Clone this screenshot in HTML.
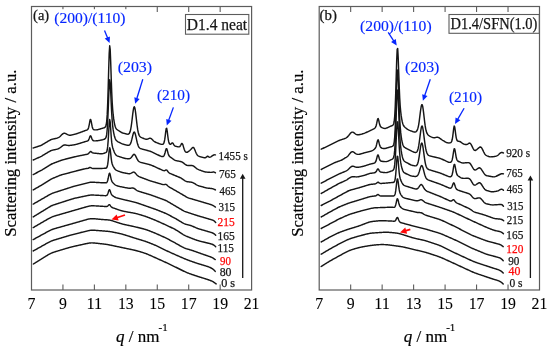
<!DOCTYPE html>
<html><head><meta charset="utf-8"><style>
html,body{margin:0;padding:0;background:#fff;width:550px;height:352px;overflow:hidden}
svg{display:block;font-family:"Liberation Serif",serif;will-change:transform}
</style></head><body>
<svg width="550" height="352" viewBox="0 0 550 352">
<rect x="31.5" y="6.5" width="220.10" height="283.50" fill="none" stroke="#5c5c5c" stroke-width="1.2"/>
<line x1="62.94" y1="290.0" x2="62.94" y2="284.5" stroke="#5c5c5c" stroke-width="1.1"/>
<line x1="62.94" y1="6.5" x2="62.94" y2="12.0" stroke="#5c5c5c" stroke-width="1.1"/>
<line x1="94.39" y1="290.0" x2="94.39" y2="284.5" stroke="#5c5c5c" stroke-width="1.1"/>
<line x1="94.39" y1="6.5" x2="94.39" y2="12.0" stroke="#5c5c5c" stroke-width="1.1"/>
<line x1="125.83" y1="290.0" x2="125.83" y2="284.5" stroke="#5c5c5c" stroke-width="1.1"/>
<line x1="125.83" y1="6.5" x2="125.83" y2="12.0" stroke="#5c5c5c" stroke-width="1.1"/>
<line x1="157.27" y1="290.0" x2="157.27" y2="284.5" stroke="#5c5c5c" stroke-width="1.1"/>
<line x1="157.27" y1="6.5" x2="157.27" y2="12.0" stroke="#5c5c5c" stroke-width="1.1"/>
<line x1="188.71" y1="290.0" x2="188.71" y2="284.5" stroke="#5c5c5c" stroke-width="1.1"/>
<line x1="188.71" y1="6.5" x2="188.71" y2="12.0" stroke="#5c5c5c" stroke-width="1.1"/>
<line x1="220.16" y1="290.0" x2="220.16" y2="284.5" stroke="#5c5c5c" stroke-width="1.1"/>
<line x1="220.16" y1="6.5" x2="220.16" y2="12.0" stroke="#5c5c5c" stroke-width="1.1"/>
<text x="31.50" y="308.5" font-size="17" text-anchor="middle" stroke="#000" stroke-width="0.1" textLength="7.91" lengthAdjust="spacingAndGlyphs">7</text>
<text x="62.94" y="308.5" font-size="17" text-anchor="middle" stroke="#000" stroke-width="0.1" textLength="7.91" lengthAdjust="spacingAndGlyphs">9</text>
<text x="94.39" y="308.5" font-size="17" text-anchor="middle" stroke="#000" stroke-width="0.1" textLength="15.81" lengthAdjust="spacingAndGlyphs">11</text>
<text x="125.83" y="308.5" font-size="17" text-anchor="middle" stroke="#000" stroke-width="0.1" textLength="15.81" lengthAdjust="spacingAndGlyphs">13</text>
<text x="157.27" y="308.5" font-size="17" text-anchor="middle" stroke="#000" stroke-width="0.1" textLength="15.81" lengthAdjust="spacingAndGlyphs">15</text>
<text x="188.71" y="308.5" font-size="17" text-anchor="middle" stroke="#000" stroke-width="0.1" textLength="15.81" lengthAdjust="spacingAndGlyphs">17</text>
<text x="220.16" y="308.5" font-size="17" text-anchor="middle" stroke="#000" stroke-width="0.1" textLength="15.81" lengthAdjust="spacingAndGlyphs">19</text>
<text x="251.60" y="308.5" font-size="17" text-anchor="middle" stroke="#000" stroke-width="0.1" textLength="15.81" lengthAdjust="spacingAndGlyphs">21</text>
<text x="116.00" y="342" font-size="17" stroke="#000" stroke-width="0.2"><tspan font-style="italic">q</tspan> / nm</text>
<text x="158.50" y="331" font-size="11" stroke="#000" stroke-width="0.15">-1</text>
<text transform="translate(16.20,236.8) rotate(-90)" font-size="16.8" stroke="#000" stroke-width="0.2">Scattering intensity / a.u.</text>
<rect x="319.2" y="6.5" width="220.30" height="283.50" fill="none" stroke="#5c5c5c" stroke-width="1.2"/>
<line x1="350.67" y1="290.0" x2="350.67" y2="284.5" stroke="#5c5c5c" stroke-width="1.1"/>
<line x1="350.67" y1="6.5" x2="350.67" y2="12.0" stroke="#5c5c5c" stroke-width="1.1"/>
<line x1="382.14" y1="290.0" x2="382.14" y2="284.5" stroke="#5c5c5c" stroke-width="1.1"/>
<line x1="382.14" y1="6.5" x2="382.14" y2="12.0" stroke="#5c5c5c" stroke-width="1.1"/>
<line x1="413.61" y1="290.0" x2="413.61" y2="284.5" stroke="#5c5c5c" stroke-width="1.1"/>
<line x1="413.61" y1="6.5" x2="413.61" y2="12.0" stroke="#5c5c5c" stroke-width="1.1"/>
<line x1="445.09" y1="290.0" x2="445.09" y2="284.5" stroke="#5c5c5c" stroke-width="1.1"/>
<line x1="445.09" y1="6.5" x2="445.09" y2="12.0" stroke="#5c5c5c" stroke-width="1.1"/>
<line x1="476.56" y1="290.0" x2="476.56" y2="284.5" stroke="#5c5c5c" stroke-width="1.1"/>
<line x1="476.56" y1="6.5" x2="476.56" y2="12.0" stroke="#5c5c5c" stroke-width="1.1"/>
<line x1="508.03" y1="290.0" x2="508.03" y2="284.5" stroke="#5c5c5c" stroke-width="1.1"/>
<line x1="508.03" y1="6.5" x2="508.03" y2="12.0" stroke="#5c5c5c" stroke-width="1.1"/>
<text x="319.20" y="308.5" font-size="17" text-anchor="middle" stroke="#000" stroke-width="0.1" textLength="7.91" lengthAdjust="spacingAndGlyphs">7</text>
<text x="350.67" y="308.5" font-size="17" text-anchor="middle" stroke="#000" stroke-width="0.1" textLength="7.91" lengthAdjust="spacingAndGlyphs">9</text>
<text x="382.14" y="308.5" font-size="17" text-anchor="middle" stroke="#000" stroke-width="0.1" textLength="15.81" lengthAdjust="spacingAndGlyphs">11</text>
<text x="413.61" y="308.5" font-size="17" text-anchor="middle" stroke="#000" stroke-width="0.1" textLength="15.81" lengthAdjust="spacingAndGlyphs">13</text>
<text x="445.09" y="308.5" font-size="17" text-anchor="middle" stroke="#000" stroke-width="0.1" textLength="15.81" lengthAdjust="spacingAndGlyphs">15</text>
<text x="476.56" y="308.5" font-size="17" text-anchor="middle" stroke="#000" stroke-width="0.1" textLength="15.81" lengthAdjust="spacingAndGlyphs">17</text>
<text x="508.03" y="308.5" font-size="17" text-anchor="middle" stroke="#000" stroke-width="0.1" textLength="15.81" lengthAdjust="spacingAndGlyphs">19</text>
<text x="539.50" y="308.5" font-size="17" text-anchor="middle" stroke="#000" stroke-width="0.1" textLength="15.81" lengthAdjust="spacingAndGlyphs">21</text>
<text x="403.70" y="342" font-size="17" stroke="#000" stroke-width="0.2"><tspan font-style="italic">q</tspan> / nm</text>
<text x="446.20" y="331" font-size="11" stroke="#000" stroke-width="0.15">-1</text>
<text transform="translate(302.80,236.8) rotate(-90)" font-size="16.8" stroke="#000" stroke-width="0.2">Scattering intensity / a.u.</text>
<path d="M33.20,147.99 L33.70,147.83 L34.20,147.67 L34.70,147.51 L35.20,147.35 L35.70,147.19 L36.20,147.03 L36.70,146.87 L37.20,146.71 L37.70,146.55 L38.20,146.39 L38.70,146.23 L39.20,146.06 L39.70,145.90 L40.20,145.71 L40.70,145.51 L41.20,145.29 L41.70,145.03 L42.20,144.76 L42.70,144.47 L43.20,144.17 L43.70,143.87 L44.20,143.57 L44.70,143.27 L45.20,142.97 L45.70,142.67 L46.20,142.37 L46.70,142.07 L47.20,141.77 L47.70,141.47 L48.20,141.17 L48.70,140.87 L49.20,140.57 L49.70,140.29 L50.20,140.01 L50.70,139.77 L51.20,139.56 L51.70,139.39 L52.20,139.25 L52.70,139.13 L53.20,139.02 L53.70,138.91 L54.20,138.80 L54.70,138.69 L55.20,138.57 L55.70,138.46 L56.20,138.33 L56.70,138.20 L57.20,138.04 L57.70,137.86 L58.20,137.65 L58.70,137.40 L59.20,137.10 L59.70,136.74 L60.20,136.32 L60.70,135.85 L61.20,135.35 L61.70,134.84 L62.20,134.35 L62.70,133.91 L63.20,133.56 L63.70,133.31 L64.20,133.20 L64.70,133.21 L65.20,133.33 L65.70,133.55 L66.20,133.82 L66.70,134.12 L67.20,134.42 L67.70,134.68 L68.20,134.90 L68.70,135.06 L69.20,135.16 L69.70,135.20 L70.20,135.20 L70.70,135.16 L71.20,135.09 L71.70,134.99 L72.20,134.89 L72.70,134.77 L73.20,134.65 L73.70,134.53 L74.20,134.40 L74.70,134.27 L75.20,134.14 L75.70,134.00 L76.20,133.85 L76.70,133.69 L77.20,133.52 L77.70,133.34 L78.20,133.16 L78.70,132.99 L79.20,132.81 L79.70,132.63 L80.20,132.45 L80.70,132.26 L81.20,132.08 L81.70,131.90 L82.20,131.71 L82.70,131.53 L83.20,131.34 L83.70,131.15 L84.20,130.96 L84.70,130.77 L85.20,130.59 L85.70,130.42 L86.20,130.26 L86.70,130.11 L87.20,129.90 L87.70,129.52 L88.20,128.72 L88.70,127.22 L89.20,124.87 L89.70,122.03 L90.20,119.76 L90.70,119.50 L91.20,121.43 L91.70,124.23 L92.20,126.69 L92.70,128.33 L93.20,129.20 L93.70,129.60 L94.20,129.77 L94.70,129.85 L95.20,129.88 L95.70,129.89 L96.20,129.88 L96.70,129.84 L97.20,129.77 L97.70,129.67 L98.20,129.55 L98.70,129.41 L99.20,129.26 L99.70,129.11 L100.20,128.95 L100.70,128.78 L101.20,128.63 L101.70,128.47 L102.20,128.33 L102.70,128.20 L103.20,128.06 L103.70,127.91 L104.20,127.74 L104.70,127.51 L105.20,127.15 L105.70,126.42 L106.20,124.82 L106.70,121.36 L107.20,114.63 L107.70,103.34 L108.20,87.39 L108.70,69.07 L109.20,53.21 L109.70,45.75 L110.20,49.67 L110.70,62.20 L111.20,77.74 L111.70,91.80 L112.20,102.42 L112.70,109.78 L113.20,114.95 L113.70,118.90 L114.20,122.09 L114.70,124.62 L115.20,126.49 L115.70,127.79 L116.20,128.65 L116.70,129.22 L117.20,129.64 L117.70,130.00 L118.20,130.34 L118.70,130.68 L119.20,131.01 L119.70,131.34 L120.20,131.66 L120.70,131.97 L121.20,132.26 L121.70,132.53 L122.20,132.76 L122.70,132.95 L123.20,133.12 L123.70,133.27 L124.20,133.41 L124.70,133.54 L125.20,133.67 L125.70,133.80 L126.20,133.93 L126.70,134.05 L127.20,134.14 L127.70,134.19 L128.20,134.16 L128.70,133.98 L129.20,133.54 L129.70,132.71 L130.20,131.33 L130.70,129.25 L131.20,126.37 L131.70,122.75 L132.20,118.60 L132.70,114.36 L133.20,110.59 L133.70,107.90 L134.20,106.77 L134.70,107.41 L135.20,109.74 L135.70,113.35 L136.20,117.69 L136.70,122.15 L137.20,126.23 L137.70,129.64 L138.20,132.25 L138.70,134.11 L139.20,135.37 L139.70,136.19 L140.20,136.73 L140.70,137.10 L141.20,137.39 L141.70,137.64 L142.20,137.86 L142.70,138.08 L143.20,138.28 L143.70,138.49 L144.20,138.69 L144.70,138.87 L145.20,139.03 L145.70,139.16 L146.20,139.23 L146.70,139.24 L147.20,139.17 L147.70,139.02 L148.20,138.82 L148.70,138.59 L149.20,138.39 L149.70,138.25 L150.20,138.23 L150.70,138.37 L151.20,138.65 L151.70,139.06 L152.20,139.56 L152.70,140.08 L153.20,140.59 L153.70,141.04 L154.20,141.43 L154.70,141.76 L155.20,142.03 L155.70,142.26 L156.20,142.48 L156.70,142.68 L157.20,142.88 L157.70,143.08 L158.20,143.27 L158.70,143.46 L159.20,143.65 L159.70,143.83 L160.20,144.01 L160.70,144.16 L161.20,144.29 L161.70,144.37 L162.20,144.39 L162.70,144.30 L163.20,144.04 L163.70,143.40 L164.20,142.06 L164.70,139.65 L165.20,136.05 L165.70,131.87 L166.20,128.63 L166.70,128.28 L167.20,131.08 L167.70,135.23 L168.20,139.02 L168.70,141.69 L169.20,143.23 L169.70,143.99 L170.20,144.27 L170.70,144.21 L171.20,143.84 L171.70,143.28 L172.20,142.88 L172.70,142.98 L173.20,143.64 L173.70,144.53 L174.20,145.30 L174.70,145.81 L175.20,146.10 L175.70,146.27 L176.20,146.40 L176.70,146.51 L177.20,146.61 L177.70,146.72 L178.20,146.82 L178.70,146.89 L179.20,146.87 L179.70,146.65 L180.20,146.10 L180.70,145.24 L181.20,144.25 L181.70,143.54 L182.20,143.52 L182.70,144.35 L183.20,145.86 L183.70,147.64 L184.20,149.28 L184.70,150.56 L185.20,151.44 L185.70,151.99 L186.20,152.27 L186.70,152.35 L187.20,152.24 L187.70,152.01 L188.20,151.68 L188.70,151.31 L189.20,150.90 L189.70,150.49 L190.20,150.04 L190.70,149.56 L191.20,149.01 L191.70,148.42 L192.20,147.86 L192.70,147.48 L193.20,147.41 L193.70,147.73 L194.20,148.46 L194.70,149.53 L195.20,150.77 L195.70,152.05 L196.20,153.23 L196.70,154.21 L197.20,154.98 L197.70,155.54 L198.20,155.92 L198.70,156.20 L199.20,156.40 L199.70,156.56 L200.20,156.70 L200.70,156.84 L201.20,156.97 L201.70,157.11 L202.20,157.24 L202.70,157.37 L203.20,157.50 L203.70,157.63 L204.20,157.73 L204.70,157.78 L205.20,157.75 L205.70,157.57 L206.20,157.21 L206.70,156.72 L207.20,156.33 L207.70,156.25 L208.20,156.49 L208.70,156.86 L209.20,157.14 L209.70,157.22 L210.20,157.10 L210.70,156.87 L211.20,156.55 L211.70,156.21 L212.20,155.85 L212.70,155.52 L213.20,155.22 L213.70,155.00 L214.20,154.88 L214.70,154.84 L215.20,154.87 L215.45,154.89" fill="none" stroke="#161616" stroke-width="1.45" stroke-linejoin="round" stroke-linecap="round"/>
<path d="M33.20,160.00 L33.70,159.77 L34.20,159.55 L34.70,159.32 L35.20,159.10 L35.70,158.87 L36.20,158.65 L36.70,158.42 L37.20,158.20 L37.70,157.98 L38.20,157.75 L38.70,157.53 L39.20,157.30 L39.70,157.07 L40.20,156.84 L40.70,156.59 L41.20,156.33 L41.70,156.05 L42.20,155.77 L42.70,155.47 L43.20,155.17 L43.70,154.87 L44.20,154.57 L44.70,154.27 L45.20,153.97 L45.70,153.67 L46.20,153.37 L46.70,153.07 L47.20,152.77 L47.70,152.47 L48.20,152.17 L48.70,151.87 L49.20,151.58 L49.70,151.29 L50.20,151.02 L50.70,150.77 L51.20,150.57 L51.70,150.40 L52.20,150.26 L52.70,150.13 L53.20,150.02 L53.70,149.91 L54.20,149.80 L54.70,149.70 L55.20,149.59 L55.70,149.48 L56.20,149.36 L56.70,149.24 L57.20,149.10 L57.70,148.94 L58.20,148.74 L58.70,148.51 L59.20,148.24 L59.70,147.93 L60.20,147.60 L60.70,147.24 L61.20,146.85 L61.70,146.46 L62.20,146.08 L62.70,145.73 L63.20,145.42 L63.70,145.19 L64.20,145.03 L64.70,144.96 L65.20,144.96 L65.70,145.02 L66.20,145.10 L66.70,145.20 L67.20,145.29 L67.70,145.36 L68.20,145.42 L68.70,145.44 L69.20,145.44 L69.70,145.42 L70.20,145.38 L70.70,145.32 L71.20,145.25 L71.70,145.18 L72.20,145.10 L72.70,145.02 L73.20,144.94 L73.70,144.86 L74.20,144.77 L74.70,144.68 L75.20,144.59 L75.70,144.48 L76.20,144.37 L76.70,144.24 L77.20,144.10 L77.70,143.95 L78.20,143.80 L78.70,143.65 L79.20,143.50 L79.70,143.34 L80.20,143.19 L80.70,143.04 L81.20,142.88 L81.70,142.73 L82.20,142.57 L82.70,142.42 L83.20,142.26 L83.70,142.10 L84.20,141.95 L84.70,141.79 L85.20,141.64 L85.70,141.51 L86.20,141.39 L86.70,141.28 L87.20,141.16 L87.70,140.94 L88.20,140.53 L88.70,139.76 L89.20,138.57 L89.70,137.13 L90.20,135.98 L90.70,135.83 L91.20,136.78 L91.70,138.17 L92.20,139.38 L92.70,140.18 L93.20,140.60 L93.70,140.78 L94.20,140.85 L94.70,140.87 L95.20,140.87 L95.70,140.86 L96.20,140.83 L96.70,140.80 L97.20,140.75 L97.70,140.69 L98.20,140.61 L98.70,140.53 L99.20,140.45 L99.70,140.35 L100.20,140.26 L100.70,140.16 L101.20,140.06 L101.70,139.95 L102.20,139.83 L102.70,139.71 L103.20,139.56 L103.70,139.40 L104.20,139.22 L104.70,138.99 L105.20,138.66 L105.70,138.09 L106.20,136.90 L106.70,134.38 L107.20,129.51 L107.70,121.35 L108.20,109.83 L108.70,96.59 L109.20,85.14 L109.70,79.76 L110.20,82.60 L110.70,91.67 L111.20,102.91 L111.70,113.09 L112.20,120.79 L112.70,126.14 L113.20,129.92 L113.70,132.83 L114.20,135.20 L114.70,137.10 L115.20,138.54 L115.70,139.57 L116.20,140.29 L116.70,140.80 L117.20,141.19 L117.70,141.52 L118.20,141.82 L118.70,142.10 L119.20,142.38 L119.70,142.65 L120.20,142.91 L120.70,143.17 L121.20,143.41 L121.70,143.64 L122.20,143.84 L122.70,144.02 L123.20,144.17 L123.70,144.31 L124.20,144.45 L124.70,144.58 L125.20,144.71 L125.70,144.84 L126.20,144.97 L126.70,145.09 L127.20,145.20 L127.70,145.29 L128.20,145.34 L128.70,145.32 L129.20,145.16 L129.70,144.80 L130.20,144.16 L130.70,143.16 L131.20,141.74 L131.70,139.93 L132.20,137.86 L132.70,135.74 L133.20,133.86 L133.70,132.54 L134.20,132.03 L134.70,132.43 L135.20,133.71 L135.70,135.65 L136.20,137.96 L136.70,140.34 L137.20,142.52 L137.70,144.36 L138.20,145.78 L138.70,146.81 L139.20,147.53 L139.70,148.01 L140.20,148.34 L140.70,148.57 L141.20,148.76 L141.70,148.92 L142.20,149.07 L142.70,149.21 L143.20,149.34 L143.70,149.48 L144.20,149.62 L144.70,149.75 L145.20,149.89 L145.70,150.03 L146.20,150.16 L146.70,150.30 L147.20,150.43 L147.70,150.57 L148.20,150.71 L148.70,150.84 L149.20,150.98 L149.70,151.12 L150.20,151.28 L150.70,151.45 L151.20,151.64 L151.70,151.85 L152.20,152.08 L152.70,152.32 L153.20,152.56 L153.70,152.81 L154.20,153.06 L154.70,153.30 L155.20,153.55 L155.70,153.80 L156.20,154.04 L156.70,154.29 L157.20,154.53 L157.70,154.78 L158.20,155.02 L158.70,155.26 L159.20,155.50 L159.70,155.73 L160.20,155.96 L160.70,156.18 L161.20,156.36 L161.70,156.50 L162.20,156.58 L162.70,156.57 L163.20,156.43 L163.70,156.07 L164.20,155.34 L164.70,154.09 L165.20,152.30 L165.70,150.30 L166.20,148.79 L166.70,148.63 L167.20,149.93 L167.70,151.91 L168.20,153.78 L168.70,155.17 L169.20,156.06 L169.70,156.59 L170.20,156.97 L170.70,157.31 L171.20,157.66 L171.70,158.02 L172.20,158.39 L172.70,158.76 L173.20,159.12 L173.70,159.47 L174.20,159.79 L174.70,160.07 L175.20,160.31 L175.70,160.49 L176.20,160.64 L176.70,160.75 L177.20,160.86 L177.70,160.96 L178.20,161.05 L178.70,161.15 L179.20,161.24 L179.70,161.34 L180.20,161.44 L180.70,161.56 L181.20,161.70 L181.70,161.89 L182.20,162.14 L182.70,162.44 L183.20,162.80 L183.70,163.19 L184.20,163.59 L184.70,163.99 L185.20,164.38 L185.70,164.73 L186.20,165.02 L186.70,165.23 L187.20,165.37 L187.70,165.44 L188.20,165.47 L188.70,165.48 L189.20,165.49 L189.70,165.49 L190.20,165.49 L190.70,165.49 L191.20,165.50 L191.70,165.53 L192.20,165.59 L192.70,165.71 L193.20,165.92 L193.70,166.20 L194.20,166.55 L194.70,166.94 L195.20,167.35 L195.70,167.77 L196.20,168.17 L196.70,168.56 L197.20,168.91 L197.70,169.22 L198.20,169.47 L198.70,169.70 L199.20,169.90 L199.70,170.08 L200.20,170.26 L200.70,170.44 L201.20,170.63 L201.70,170.81 L202.20,170.99 L202.70,171.16 L203.20,171.34 L203.70,171.51 L204.20,171.67 L204.70,171.81 L205.20,171.92 L205.70,172.00 L206.20,172.06 L206.70,172.11 L207.20,172.15 L207.70,172.19 L208.20,172.22 L208.70,172.26 L209.20,172.29 L209.70,172.33 L210.20,172.36 L210.70,172.38 L211.20,172.37 L211.70,172.33 L212.20,172.24 L212.70,172.13 L213.20,172.04 L213.70,172.03 L214.20,172.13 L214.70,172.36 L215.20,172.66 L215.45,172.83" fill="none" stroke="#161616" stroke-width="1.45" stroke-linejoin="round" stroke-linecap="round"/>
<path d="M33.20,174.60 L33.70,174.33 L34.20,174.07 L34.70,173.81 L35.20,173.54 L35.70,173.28 L36.20,173.01 L36.70,172.75 L37.20,172.49 L37.70,172.22 L38.20,171.96 L38.70,171.69 L39.20,171.43 L39.70,171.17 L40.20,170.90 L40.70,170.63 L41.20,170.36 L41.70,170.09 L42.20,169.80 L42.70,169.50 L43.20,169.20 L43.70,168.89 L44.20,168.58 L44.70,168.27 L45.20,167.95 L45.70,167.64 L46.20,167.32 L46.70,167.01 L47.20,166.70 L47.70,166.38 L48.20,166.07 L48.70,165.76 L49.20,165.44 L49.70,165.13 L50.20,164.83 L50.70,164.53 L51.20,164.25 L51.70,164.00 L52.20,163.77 L52.70,163.56 L53.20,163.36 L53.70,163.17 L54.20,162.98 L54.70,162.79 L55.20,162.60 L55.70,162.42 L56.20,162.23 L56.70,162.04 L57.20,161.85 L57.70,161.66 L58.20,161.48 L58.70,161.29 L59.20,161.10 L59.70,160.92 L60.20,160.73 L60.70,160.56 L61.20,160.39 L61.70,160.22 L62.20,160.06 L62.70,159.91 L63.20,159.75 L63.70,159.61 L64.20,159.47 L64.70,159.33 L65.20,159.20 L65.70,159.07 L66.20,158.95 L66.70,158.82 L67.20,158.70 L67.70,158.57 L68.20,158.45 L68.70,158.32 L69.20,158.20 L69.70,158.07 L70.20,157.94 L70.70,157.82 L71.20,157.69 L71.70,157.57 L72.20,157.44 L72.70,157.32 L73.20,157.19 L73.70,157.07 L74.20,156.94 L74.70,156.82 L75.20,156.70 L75.70,156.58 L76.20,156.47 L76.70,156.36 L77.20,156.26 L77.70,156.15 L78.20,156.05 L78.70,155.95 L79.20,155.85 L79.70,155.75 L80.20,155.65 L80.70,155.55 L81.20,155.45 L81.70,155.35 L82.20,155.25 L82.70,155.15 L83.20,155.05 L83.70,154.95 L84.20,154.85 L84.70,154.75 L85.20,154.64 L85.70,154.54 L86.20,154.44 L86.70,154.33 L87.20,154.20 L87.70,154.04 L88.20,153.79 L88.70,153.38 L89.20,152.80 L89.70,152.15 L90.20,151.65 L90.70,151.50 L91.20,151.73 L91.70,152.17 L92.20,152.58 L92.70,152.85 L93.20,152.99 L93.70,153.06 L94.20,153.11 L94.70,153.16 L95.20,153.21 L95.70,153.26 L96.20,153.31 L96.70,153.36 L97.20,153.41 L97.70,153.47 L98.20,153.52 L98.70,153.57 L99.20,153.62 L99.70,153.66 L100.20,153.71 L100.70,153.74 L101.20,153.76 L101.70,153.75 L102.20,153.70 L102.70,153.61 L103.20,153.49 L103.70,153.35 L104.20,153.20 L104.70,153.04 L105.20,152.87 L105.70,152.68 L106.20,152.38 L106.70,151.71 L107.20,150.04 L107.70,146.43 L108.20,140.12 L108.70,131.60 L109.20,123.43 L109.70,119.53 L110.20,122.09 L110.70,129.02 L111.20,136.50 L111.70,142.16 L112.20,145.62 L112.70,147.67 L113.20,149.18 L113.70,150.55 L114.20,151.86 L114.70,153.02 L115.20,153.95 L115.70,154.65 L116.20,155.16 L116.70,155.54 L117.20,155.82 L117.70,156.05 L118.20,156.25 L118.70,156.43 L119.20,156.60 L119.70,156.76 L120.20,156.93 L120.70,157.09 L121.20,157.25 L121.70,157.41 L122.20,157.57 L122.70,157.73 L123.20,157.89 L123.70,158.04 L124.20,158.19 L124.70,158.31 L125.20,158.42 L125.70,158.51 L126.20,158.58 L126.70,158.63 L127.20,158.68 L127.70,158.72 L128.20,158.74 L128.70,158.74 L129.20,158.69 L129.70,158.58 L130.20,158.38 L130.70,158.05 L131.20,157.57 L131.70,156.95 L132.20,156.23 L132.70,155.49 L133.20,154.85 L133.70,154.43 L134.20,154.33 L134.70,154.60 L135.20,155.22 L135.70,156.11 L136.20,157.14 L136.70,158.20 L137.20,159.18 L137.70,160.03 L138.20,160.70 L138.70,161.22 L139.20,161.62 L139.70,161.92 L140.20,162.15 L140.70,162.34 L141.20,162.51 L141.70,162.65 L142.20,162.79 L142.70,162.92 L143.20,163.04 L143.70,163.17 L144.20,163.29 L144.70,163.42 L145.20,163.54 L145.70,163.67 L146.20,163.79 L146.70,163.92 L147.20,164.04 L147.70,164.17 L148.20,164.29 L148.70,164.42 L149.20,164.55 L149.70,164.68 L150.20,164.82 L150.70,164.98 L151.20,165.15 L151.70,165.35 L152.20,165.56 L152.70,165.78 L153.20,166.01 L153.70,166.23 L154.20,166.46 L154.70,166.69 L155.20,166.92 L155.70,167.15 L156.20,167.38 L156.70,167.61 L157.20,167.84 L157.70,168.07 L158.20,168.30 L158.70,168.53 L159.20,168.76 L159.70,168.98 L160.20,169.21 L160.70,169.44 L161.20,169.67 L161.70,169.90 L162.20,170.12 L162.70,170.34 L163.20,170.52 L163.70,170.65 L164.20,170.68 L164.70,170.56 L165.20,170.30 L165.70,170.02 L166.20,169.89 L166.70,170.07 L167.20,170.56 L167.70,171.24 L168.20,171.93 L168.70,172.50 L169.20,172.92 L169.70,173.23 L170.20,173.48 L170.70,173.70 L171.20,173.91 L171.70,174.12 L172.20,174.33 L172.70,174.54 L173.20,174.75 L173.70,174.96 L174.20,175.16 L174.70,175.37 L175.20,175.58 L175.70,175.79 L176.20,176.00 L176.70,176.21 L177.20,176.41 L177.70,176.62 L178.20,176.83 L178.70,177.04 L179.20,177.25 L179.70,177.47 L180.20,177.70 L180.70,177.95 L181.20,178.23 L181.70,178.53 L182.20,178.86 L182.70,179.20 L183.20,179.55 L183.70,179.90 L184.20,180.25 L184.70,180.59 L185.20,180.90 L185.70,181.18 L186.20,181.40 L186.70,181.56 L187.20,181.68 L187.70,181.76 L188.20,181.82 L188.70,181.88 L189.20,181.94 L189.70,181.99 L190.20,182.05 L190.70,182.11 L191.20,182.18 L191.70,182.27 L192.20,182.40 L192.70,182.58 L193.20,182.81 L193.70,183.08 L194.20,183.37 L194.70,183.68 L195.20,183.99 L195.70,184.30 L196.20,184.61 L196.70,184.90 L197.20,185.17 L197.70,185.40 L198.20,185.61 L198.70,185.78 L199.20,185.94 L199.70,186.08 L200.20,186.22 L200.70,186.36 L201.20,186.50 L201.70,186.64 L202.20,186.78 L202.70,186.92 L203.20,187.05 L203.70,187.19 L204.20,187.33 L204.70,187.47 L205.20,187.60 L205.70,187.73 L206.20,187.85 L206.70,187.95 L207.20,188.04 L207.70,188.11 L208.20,188.17 L208.70,188.23 L209.20,188.28 L209.70,188.34 L210.20,188.39 L210.70,188.45 L211.20,188.51 L211.70,188.57 L212.20,188.66 L212.70,188.77 L213.20,188.91 L213.70,189.09 L214.20,189.30 L214.70,189.52 L215.20,189.76 L215.45,189.88" fill="none" stroke="#161616" stroke-width="1.45" stroke-linejoin="round" stroke-linecap="round"/>
<path d="M33.20,189.90 L33.70,189.61 L34.20,189.33 L34.70,189.04 L35.20,188.75 L35.70,188.47 L36.20,188.18 L36.70,187.89 L37.20,187.61 L37.70,187.32 L38.20,187.03 L38.70,186.75 L39.20,186.46 L39.70,186.17 L40.20,185.89 L40.70,185.60 L41.20,185.31 L41.70,185.02 L42.20,184.72 L42.70,184.41 L43.20,184.10 L43.70,183.79 L44.20,183.48 L44.70,183.17 L45.20,182.85 L45.70,182.54 L46.20,182.23 L46.70,181.91 L47.20,181.60 L47.70,181.28 L48.20,180.97 L48.70,180.66 L49.20,180.34 L49.70,180.03 L50.20,179.72 L50.70,179.43 L51.20,179.14 L51.70,178.88 L52.20,178.63 L52.70,178.41 L53.20,178.19 L53.70,177.98 L54.20,177.77 L54.70,177.56 L55.20,177.35 L55.70,177.14 L56.20,176.93 L56.70,176.72 L57.20,176.51 L57.70,176.30 L58.20,176.09 L58.70,175.88 L59.20,175.67 L59.70,175.47 L60.20,175.28 L60.70,175.10 L61.20,174.94 L61.70,174.79 L62.20,174.65 L62.70,174.52 L63.20,174.40 L63.70,174.27 L64.20,174.14 L64.70,174.01 L65.20,173.88 L65.70,173.74 L66.20,173.61 L66.70,173.48 L67.20,173.34 L67.70,173.21 L68.20,173.08 L68.70,172.94 L69.20,172.81 L69.70,172.68 L70.20,172.54 L70.70,172.41 L71.20,172.28 L71.70,172.14 L72.20,172.01 L72.70,171.88 L73.20,171.74 L73.70,171.61 L74.20,171.48 L74.70,171.34 L75.20,171.21 L75.70,171.08 L76.20,170.95 L76.70,170.82 L77.20,170.70 L77.70,170.57 L78.20,170.45 L78.70,170.32 L79.20,170.19 L79.70,170.07 L80.20,169.94 L80.70,169.82 L81.20,169.69 L81.70,169.57 L82.20,169.44 L82.70,169.32 L83.20,169.19 L83.70,169.07 L84.20,168.95 L84.70,168.83 L85.20,168.72 L85.70,168.63 L86.20,168.57 L86.70,168.52 L87.20,168.46 L87.70,168.38 L88.20,168.23 L88.70,167.99 L89.20,167.72 L89.70,167.52 L90.20,167.50 L90.70,167.67 L91.20,167.93 L91.70,168.18 L92.20,168.35 L92.70,168.43 L93.20,168.47 L93.70,168.48 L94.20,168.48 L94.70,168.48 L95.20,168.48 L95.70,168.47 L96.20,168.47 L96.70,168.47 L97.20,168.47 L97.70,168.47 L98.20,168.46 L98.70,168.46 L99.20,168.45 L99.70,168.45 L100.20,168.45 L100.70,168.44 L101.20,168.43 L101.70,168.42 L102.20,168.41 L102.70,168.40 L103.20,168.39 L103.70,168.37 L104.20,168.34 L104.70,168.31 L105.20,168.28 L105.70,168.21 L106.20,168.07 L106.70,167.68 L107.20,166.66 L107.70,164.43 L108.20,160.53 L108.70,155.27 L109.20,150.22 L109.70,147.81 L110.20,149.39 L110.70,153.67 L111.20,158.31 L111.70,161.83 L112.20,164.01 L112.70,165.33 L113.20,166.30 L113.70,167.20 L114.20,168.03 L114.70,168.77 L115.20,169.37 L115.70,169.83 L116.20,170.17 L116.70,170.45 L117.20,170.67 L117.70,170.88 L118.20,171.07 L118.70,171.26 L119.20,171.44 L119.70,171.63 L120.20,171.81 L120.70,171.99 L121.20,172.16 L121.70,172.31 L122.20,172.45 L122.70,172.58 L123.20,172.69 L123.70,172.79 L124.20,172.89 L124.70,172.98 L125.20,173.08 L125.70,173.17 L126.20,173.27 L126.70,173.36 L127.20,173.45 L127.70,173.53 L128.20,173.60 L128.70,173.66 L129.20,173.68 L129.70,173.66 L130.20,173.58 L130.70,173.43 L131.20,173.21 L131.70,172.93 L132.20,172.62 L132.70,172.33 L133.20,172.14 L133.70,172.08 L134.20,172.21 L134.70,172.51 L135.20,172.97 L135.70,173.53 L136.20,174.13 L136.70,174.70 L137.20,175.22 L137.70,175.67 L138.20,176.03 L138.70,176.34 L139.20,176.61 L139.70,176.84 L140.20,177.06 L140.70,177.26 L141.20,177.46 L141.70,177.65 L142.20,177.84 L142.70,178.03 L143.20,178.22 L143.70,178.41 L144.20,178.60 L144.70,178.79 L145.20,178.98 L145.70,179.17 L146.20,179.36 L146.70,179.55 L147.20,179.74 L147.70,179.93 L148.20,180.12 L148.70,180.31 L149.20,180.49 L149.70,180.66 L150.20,180.83 L150.70,180.98 L151.20,181.14 L151.70,181.28 L152.20,181.43 L152.70,181.58 L153.20,181.73 L153.70,181.87 L154.20,182.02 L154.70,182.17 L155.20,182.31 L155.70,182.46 L156.20,182.61 L156.70,182.75 L157.20,182.90 L157.70,183.05 L158.20,183.19 L158.70,183.34 L159.20,183.49 L159.70,183.64 L160.20,183.78 L160.70,183.93 L161.20,184.08 L161.70,184.22 L162.20,184.36 L162.70,184.49 L163.20,184.59 L163.70,184.63 L164.20,184.60 L164.70,184.48 L165.20,184.36 L165.70,184.33 L166.20,184.49 L166.70,184.84 L167.20,185.32 L167.70,185.81 L168.20,186.26 L168.70,186.63 L169.20,186.96 L169.70,187.26 L170.20,187.55 L170.70,187.84 L171.20,188.12 L171.70,188.41 L172.20,188.69 L172.70,188.98 L173.20,189.26 L173.70,189.55 L174.20,189.83 L174.70,190.12 L175.20,190.40 L175.70,190.69 L176.20,190.97 L176.70,191.26 L177.20,191.54 L177.70,191.83 L178.20,192.12 L178.70,192.41 L179.20,192.70 L179.70,193.00 L180.20,193.29 L180.70,193.58 L181.20,193.87 L181.70,194.17 L182.20,194.46 L182.70,194.75 L183.20,195.05 L183.70,195.34 L184.20,195.63 L184.70,195.92 L185.20,196.22 L185.70,196.51 L186.20,196.80 L186.70,197.08 L187.20,197.35 L187.70,197.59 L188.20,197.81 L188.70,198.00 L189.20,198.17 L189.70,198.32 L190.20,198.47 L190.70,198.62 L191.20,198.77 L191.70,198.91 L192.20,199.06 L192.70,199.21 L193.20,199.35 L193.70,199.50 L194.20,199.64 L194.70,199.79 L195.20,199.94 L195.70,200.08 L196.20,200.23 L196.70,200.38 L197.20,200.52 L197.70,200.67 L198.20,200.82 L198.70,200.97 L199.20,201.11 L199.70,201.26 L200.20,201.41 L200.70,201.56 L201.20,201.71 L201.70,201.85 L202.20,202.00 L202.70,202.15 L203.20,202.30 L203.70,202.44 L204.20,202.59 L204.70,202.74 L205.20,202.89 L205.70,203.04 L206.20,203.18 L206.70,203.33 L207.20,203.48 L207.70,203.63 L208.20,203.78 L208.70,203.92 L209.20,204.07 L209.70,204.22 L210.20,204.37 L210.70,204.53 L211.20,204.70 L211.70,204.89 L212.20,205.12 L212.70,205.37 L213.20,205.65 L213.70,205.94 L214.20,206.25 L214.70,206.55 L215.20,206.86 L215.45,207.01" fill="none" stroke="#161616" stroke-width="1.45" stroke-linejoin="round" stroke-linecap="round"/>
<path d="M33.20,204.10 L33.70,203.81 L34.20,203.52 L34.70,203.24 L35.20,202.95 L35.70,202.66 L36.20,202.37 L36.70,202.08 L37.20,201.80 L37.70,201.51 L38.20,201.22 L38.70,200.93 L39.20,200.64 L39.70,200.35 L40.20,200.07 L40.70,199.78 L41.20,199.49 L41.70,199.20 L42.20,198.91 L42.70,198.63 L43.20,198.34 L43.70,198.05 L44.20,197.76 L44.70,197.47 L45.20,197.19 L45.70,196.90 L46.20,196.61 L46.70,196.32 L47.20,196.03 L47.70,195.75 L48.20,195.46 L48.70,195.17 L49.20,194.88 L49.70,194.60 L50.20,194.32 L50.70,194.06 L51.20,193.81 L51.70,193.58 L52.20,193.37 L52.70,193.17 L53.20,193.00 L53.70,192.83 L54.20,192.66 L54.70,192.50 L55.20,192.34 L55.70,192.18 L56.20,192.01 L56.70,191.85 L57.20,191.69 L57.70,191.53 L58.20,191.37 L58.70,191.21 L59.20,191.05 L59.70,190.88 L60.20,190.72 L60.70,190.56 L61.20,190.40 L61.70,190.24 L62.20,190.08 L62.70,189.92 L63.20,189.76 L63.70,189.59 L64.20,189.43 L64.70,189.27 L65.20,189.11 L65.70,188.95 L66.20,188.79 L66.70,188.63 L67.20,188.46 L67.70,188.30 L68.20,188.14 L68.70,187.98 L69.20,187.82 L69.70,187.66 L70.20,187.50 L70.70,187.33 L71.20,187.17 L71.70,187.01 L72.20,186.86 L72.70,186.70 L73.20,186.55 L73.70,186.40 L74.20,186.26 L74.70,186.13 L75.20,186.00 L75.70,185.87 L76.20,185.74 L76.70,185.62 L77.20,185.49 L77.70,185.37 L78.20,185.24 L78.70,185.11 L79.20,184.99 L79.70,184.86 L80.20,184.74 L80.70,184.61 L81.20,184.49 L81.70,184.36 L82.20,184.23 L82.70,184.11 L83.20,183.98 L83.70,183.86 L84.20,183.73 L84.70,183.60 L85.20,183.48 L85.70,183.35 L86.20,183.23 L86.70,183.10 L87.20,182.98 L87.70,182.85 L88.20,182.73 L88.70,182.60 L89.20,182.49 L89.70,182.39 L90.20,182.30 L90.70,182.24 L91.20,182.21 L91.70,182.19 L92.20,182.20 L92.70,182.22 L93.20,182.24 L93.70,182.27 L94.20,182.30 L94.70,182.32 L95.20,182.35 L95.70,182.38 L96.20,182.41 L96.70,182.44 L97.20,182.47 L97.70,182.49 L98.20,182.52 L98.70,182.55 L99.20,182.58 L99.70,182.60 L100.20,182.63 L100.70,182.66 L101.20,182.68 L101.70,182.71 L102.20,182.73 L102.70,182.75 L103.20,182.77 L103.70,182.79 L104.20,182.81 L104.70,182.83 L105.20,182.84 L105.70,182.84 L106.20,182.78 L106.70,182.53 L107.20,181.87 L107.70,180.50 L108.20,178.28 L108.70,175.63 L109.20,173.55 L109.70,173.20 L110.20,174.73 L110.70,177.14 L111.20,179.35 L111.70,180.90 L112.20,181.85 L112.70,182.49 L113.20,183.04 L113.70,183.56 L114.20,184.05 L114.70,184.48 L115.20,184.84 L115.70,185.14 L116.20,185.38 L116.70,185.59 L117.20,185.78 L117.70,185.95 L118.20,186.11 L118.70,186.25 L119.20,186.38 L119.70,186.49 L120.20,186.60 L120.70,186.71 L121.20,186.81 L121.70,186.91 L122.20,187.00 L122.70,187.10 L123.20,187.20 L123.70,187.30 L124.20,187.40 L124.70,187.50 L125.20,187.59 L125.70,187.69 L126.20,187.79 L126.70,187.88 L127.20,187.97 L127.70,188.06 L128.20,188.14 L128.70,188.20 L129.20,188.24 L129.70,188.25 L130.20,188.24 L130.70,188.19 L131.20,188.12 L131.70,188.05 L132.20,187.99 L132.70,187.99 L133.20,188.07 L133.70,188.23 L134.20,188.49 L134.70,188.81 L135.20,189.18 L135.70,189.57 L136.20,189.93 L136.70,190.27 L137.20,190.56 L137.70,190.82 L138.20,191.04 L138.70,191.23 L139.20,191.41 L139.70,191.58 L140.20,191.74 L140.70,191.90 L141.20,192.05 L141.70,192.20 L142.20,192.36 L142.70,192.51 L143.20,192.66 L143.70,192.81 L144.20,192.96 L144.70,193.11 L145.20,193.26 L145.70,193.41 L146.20,193.56 L146.70,193.71 L147.20,193.86 L147.70,194.01 L148.20,194.16 L148.70,194.31 L149.20,194.46 L149.70,194.61 L150.20,194.77 L150.70,194.93 L151.20,195.10 L151.70,195.27 L152.20,195.45 L152.70,195.62 L153.20,195.81 L153.70,195.99 L154.20,196.17 L154.70,196.36 L155.20,196.54 L155.70,196.72 L156.20,196.91 L156.70,197.09 L157.20,197.27 L157.70,197.46 L158.20,197.64 L158.70,197.82 L159.20,198.01 L159.70,198.19 L160.20,198.37 L160.70,198.56 L161.20,198.74 L161.70,198.92 L162.20,199.11 L162.70,199.29 L163.20,199.47 L163.70,199.66 L164.20,199.85 L164.70,200.04 L165.20,200.25 L165.70,200.47 L166.20,200.70 L166.70,200.96 L167.20,201.23 L167.70,201.51 L168.20,201.80 L168.70,202.09 L169.20,202.39 L169.70,202.68 L170.20,202.98 L170.70,203.27 L171.20,203.57 L171.70,203.86 L172.20,204.16 L172.70,204.45 L173.20,204.75 L173.70,205.04 L174.20,205.34 L174.70,205.63 L175.20,205.93 L175.70,206.22 L176.20,206.52 L176.70,206.81 L177.20,207.11 L177.70,207.40 L178.20,207.69 L178.70,207.99 L179.20,208.28 L179.70,208.58 L180.20,208.87 L180.70,209.16 L181.20,209.46 L181.70,209.75 L182.20,210.04 L182.70,210.33 L183.20,210.61 L183.70,210.88 L184.20,211.13 L184.70,211.36 L185.20,211.57 L185.70,211.76 L186.20,211.94 L186.70,212.11 L187.20,212.27 L187.70,212.43 L188.20,212.59 L188.70,212.76 L189.20,212.92 L189.70,213.08 L190.20,213.24 L190.70,213.41 L191.20,213.57 L191.70,213.74 L192.20,213.90 L192.70,214.07 L193.20,214.23 L193.70,214.40 L194.20,214.57 L194.70,214.73 L195.20,214.90 L195.70,215.06 L196.20,215.23 L196.70,215.39 L197.20,215.55 L197.70,215.70 L198.20,215.86 L198.70,216.01 L199.20,216.15 L199.70,216.30 L200.20,216.45 L200.70,216.59 L201.20,216.74 L201.70,216.89 L202.20,217.03 L202.70,217.18 L203.20,217.32 L203.70,217.47 L204.20,217.62 L204.70,217.76 L205.20,217.91 L205.70,218.06 L206.20,218.20 L206.70,218.35 L207.20,218.49 L207.70,218.64 L208.20,218.79 L208.70,218.93 L209.20,219.08 L209.70,219.23 L210.20,219.37 L210.70,219.52 L211.20,219.67 L211.70,219.82 L212.20,219.98 L212.70,220.15 L213.20,220.37 L213.70,220.64 L214.20,220.98 L214.70,221.41 L215.20,221.91 L215.70,222.45" fill="none" stroke="#161616" stroke-width="1.45" stroke-linejoin="round" stroke-linecap="round"/>
<path d="M33.20,216.90 L33.70,216.59 L34.20,216.29 L34.70,215.98 L35.20,215.67 L35.70,215.36 L36.20,215.06 L36.70,214.75 L37.20,214.44 L37.70,214.14 L38.20,213.83 L38.70,213.52 L39.20,213.21 L39.70,212.91 L40.20,212.60 L40.70,212.29 L41.20,211.99 L41.70,211.68 L42.20,211.37 L42.70,211.07 L43.20,210.76 L43.70,210.45 L44.20,210.14 L44.70,209.84 L45.20,209.53 L45.70,209.22 L46.20,208.92 L46.70,208.61 L47.20,208.30 L47.70,208.00 L48.20,207.69 L48.70,207.38 L49.20,207.08 L49.70,206.79 L50.20,206.50 L50.70,206.23 L51.20,205.97 L51.70,205.73 L52.20,205.51 L52.70,205.30 L53.20,205.12 L53.70,204.94 L54.20,204.77 L54.70,204.60 L55.20,204.44 L55.70,204.28 L56.20,204.12 L56.70,203.95 L57.20,203.79 L57.70,203.63 L58.20,203.47 L58.70,203.31 L59.20,203.15 L59.70,202.99 L60.20,202.82 L60.70,202.66 L61.20,202.50 L61.70,202.34 L62.20,202.18 L62.70,202.02 L63.20,201.86 L63.70,201.69 L64.20,201.53 L64.70,201.37 L65.20,201.21 L65.70,201.05 L66.20,200.89 L66.70,200.73 L67.20,200.56 L67.70,200.40 L68.20,200.24 L68.70,200.08 L69.20,199.92 L69.70,199.76 L70.20,199.60 L70.70,199.44 L71.20,199.28 L71.70,199.12 L72.20,198.97 L72.70,198.82 L73.20,198.68 L73.70,198.54 L74.20,198.41 L74.70,198.29 L75.20,198.17 L75.70,198.06 L76.20,197.95 L76.70,197.85 L77.20,197.74 L77.70,197.64 L78.20,197.53 L78.70,197.42 L79.20,197.32 L79.70,197.21 L80.20,197.11 L80.70,197.00 L81.20,196.90 L81.70,196.79 L82.20,196.69 L82.70,196.58 L83.20,196.48 L83.70,196.37 L84.20,196.27 L84.70,196.16 L85.20,196.06 L85.70,195.95 L86.20,195.84 L86.70,195.74 L87.20,195.63 L87.70,195.53 L88.20,195.43 L88.70,195.33 L89.20,195.25 L89.70,195.17 L90.20,195.10 L90.70,195.06 L91.20,195.03 L91.70,195.01 L92.20,195.01 L92.70,195.03 L93.20,195.05 L93.70,195.07 L94.20,195.10 L94.70,195.12 L95.20,195.15 L95.70,195.18 L96.20,195.21 L96.70,195.23 L97.20,195.26 L97.70,195.29 L98.20,195.32 L98.70,195.34 L99.20,195.37 L99.70,195.40 L100.20,195.43 L100.70,195.45 L101.20,195.48 L101.70,195.50 L102.20,195.53 L102.70,195.55 L103.20,195.58 L103.70,195.60 L104.20,195.62 L104.70,195.64 L105.20,195.66 L105.70,195.66 L106.20,195.61 L106.70,195.42 L107.20,194.94 L107.70,193.97 L108.20,192.50 L108.70,190.85 L109.20,189.72 L109.70,189.77 L110.20,190.92 L110.70,192.47 L111.20,193.80 L111.70,194.71 L112.20,195.28 L112.70,195.68 L113.20,196.04 L113.70,196.40 L114.20,196.73 L114.70,197.02 L115.20,197.27 L115.70,197.48 L116.20,197.67 L116.70,197.83 L117.20,197.98 L117.70,198.13 L118.20,198.27 L118.70,198.40 L119.20,198.53 L119.70,198.66 L120.20,198.78 L120.70,198.90 L121.20,199.02 L121.70,199.14 L122.20,199.26 L122.70,199.38 L123.20,199.49 L123.70,199.61 L124.20,199.73 L124.70,199.85 L125.20,199.96 L125.70,200.08 L126.20,200.20 L126.70,200.32 L127.20,200.43 L127.70,200.55 L128.20,200.67 L128.70,200.79 L129.20,200.90 L129.70,201.02 L130.20,201.14 L130.70,201.25 L131.20,201.37 L131.70,201.49 L132.20,201.61 L132.70,201.72 L133.20,201.84 L133.70,201.96 L134.20,202.09 L134.70,202.21 L135.20,202.34 L135.70,202.48 L136.20,202.63 L136.70,202.78 L137.20,202.94 L137.70,203.10 L138.20,203.27 L138.70,203.45 L139.20,203.62 L139.70,203.79 L140.20,203.97 L140.70,204.14 L141.20,204.32 L141.70,204.49 L142.20,204.67 L142.70,204.84 L143.20,205.02 L143.70,205.19 L144.20,205.37 L144.70,205.54 L145.20,205.72 L145.70,205.89 L146.20,206.07 L146.70,206.24 L147.20,206.42 L147.70,206.59 L148.20,206.77 L148.70,206.94 L149.20,207.12 L149.70,207.29 L150.20,207.47 L150.70,207.64 L151.20,207.82 L151.70,207.99 L152.20,208.17 L152.70,208.34 L153.20,208.52 L153.70,208.70 L154.20,208.87 L154.70,209.05 L155.20,209.23 L155.70,209.42 L156.20,209.60 L156.70,209.79 L157.20,209.99 L157.70,210.18 L158.20,210.38 L158.70,210.58 L159.20,210.78 L159.70,210.98 L160.20,211.18 L160.70,211.38 L161.20,211.58 L161.70,211.78 L162.20,211.98 L162.70,212.18 L163.20,212.38 L163.70,212.58 L164.20,212.79 L164.70,213.00 L165.20,213.22 L165.70,213.44 L166.20,213.67 L166.70,213.91 L167.20,214.16 L167.70,214.41 L168.20,214.67 L168.70,214.93 L169.20,215.20 L169.70,215.46 L170.20,215.73 L170.70,215.99 L171.20,216.26 L171.70,216.52 L172.20,216.79 L172.70,217.05 L173.20,217.32 L173.70,217.58 L174.20,217.85 L174.70,218.12 L175.20,218.40 L175.70,218.68 L176.20,218.96 L176.70,219.25 L177.20,219.55 L177.70,219.85 L178.20,220.15 L178.70,220.45 L179.20,220.76 L179.70,221.06 L180.20,221.37 L180.70,221.67 L181.20,221.98 L181.70,222.28 L182.20,222.58 L182.70,222.87 L183.20,223.14 L183.70,223.40 L184.20,223.64 L184.70,223.85 L185.20,224.04 L185.70,224.21 L186.20,224.36 L186.70,224.49 L187.20,224.62 L187.70,224.74 L188.20,224.86 L188.70,224.98 L189.20,225.10 L189.70,225.24 L190.20,225.38 L190.70,225.54 L191.20,225.71 L191.70,225.89 L192.20,226.09 L192.70,226.30 L193.20,226.52 L193.70,226.75 L194.20,226.97 L194.70,227.20 L195.20,227.42 L195.70,227.64 L196.20,227.86 L196.70,228.07 L197.20,228.26 L197.70,228.45 L198.20,228.62 L198.70,228.79 L199.20,228.94 L199.70,229.10 L200.20,229.25 L200.70,229.39 L201.20,229.54 L201.70,229.69 L202.20,229.83 L202.70,229.98 L203.20,230.12 L203.70,230.27 L204.20,230.42 L204.70,230.56 L205.20,230.71 L205.70,230.86 L206.20,231.00 L206.70,231.15 L207.20,231.29 L207.70,231.44 L208.20,231.59 L208.70,231.73 L209.20,231.88 L209.70,232.03 L210.20,232.17 L210.70,232.32 L211.20,232.47 L211.70,232.64 L212.20,232.81 L212.70,233.01 L213.20,233.25 L213.70,233.55 L214.20,233.90 L214.70,234.31 L215.20,234.78 L215.70,235.29" fill="none" stroke="#161616" stroke-width="1.45" stroke-linejoin="round" stroke-linecap="round"/>
<path d="M33.20,227.60 L33.70,227.31 L34.20,227.02 L34.70,226.73 L35.20,226.44 L35.70,226.15 L36.20,225.86 L36.70,225.56 L37.20,225.27 L37.70,224.98 L38.20,224.69 L38.70,224.40 L39.20,224.11 L39.70,223.82 L40.20,223.53 L40.70,223.24 L41.20,222.95 L41.70,222.66 L42.20,222.37 L42.70,222.08 L43.20,221.78 L43.70,221.49 L44.20,221.20 L44.70,220.91 L45.20,220.62 L45.70,220.33 L46.20,220.04 L46.70,219.75 L47.20,219.46 L47.70,219.17 L48.20,218.88 L48.70,218.60 L49.20,218.32 L49.70,218.04 L50.20,217.78 L50.70,217.53 L51.20,217.29 L51.70,217.07 L52.20,216.86 L52.70,216.67 L53.20,216.49 L53.70,216.32 L54.20,216.16 L54.70,216.01 L55.20,215.86 L55.70,215.71 L56.20,215.56 L56.70,215.42 L57.20,215.27 L57.70,215.13 L58.20,214.98 L58.70,214.83 L59.20,214.69 L59.70,214.54 L60.20,214.40 L60.70,214.25 L61.20,214.11 L61.70,213.96 L62.20,213.82 L62.70,213.67 L63.20,213.53 L63.70,213.38 L64.20,213.23 L64.70,213.09 L65.20,212.94 L65.70,212.80 L66.20,212.65 L66.70,212.51 L67.20,212.36 L67.70,212.22 L68.20,212.07 L68.70,211.93 L69.20,211.78 L69.70,211.63 L70.20,211.49 L70.70,211.34 L71.20,211.20 L71.70,211.05 L72.20,210.91 L72.70,210.76 L73.20,210.62 L73.70,210.47 L74.20,210.33 L74.70,210.19 L75.20,210.04 L75.70,209.90 L76.20,209.75 L76.70,209.61 L77.20,209.47 L77.70,209.32 L78.20,209.18 L78.70,209.04 L79.20,208.89 L79.70,208.75 L80.20,208.61 L80.70,208.46 L81.20,208.32 L81.70,208.18 L82.20,208.03 L82.70,207.89 L83.20,207.75 L83.70,207.60 L84.20,207.46 L84.70,207.32 L85.20,207.18 L85.70,207.03 L86.20,206.89 L86.70,206.75 L87.20,206.61 L87.70,206.47 L88.20,206.34 L88.70,206.21 L89.20,206.10 L89.70,206.00 L90.20,205.91 L90.70,205.85 L91.20,205.80 L91.70,205.77 L92.20,205.76 L92.70,205.76 L93.20,205.77 L93.70,205.79 L94.20,205.82 L94.70,205.85 L95.20,205.87 L95.70,205.90 L96.20,205.93 L96.70,205.96 L97.20,205.99 L97.70,206.03 L98.20,206.06 L98.70,206.09 L99.20,206.12 L99.70,206.15 L100.20,206.18 L100.70,206.21 L101.20,206.24 L101.70,206.27 L102.20,206.29 L102.70,206.32 L103.20,206.35 L103.70,206.38 L104.20,206.41 L104.70,206.44 L105.20,206.47 L105.70,206.50 L106.20,206.52 L106.70,206.48 L107.20,206.34 L107.70,206.03 L108.20,205.53 L108.70,204.99 L109.20,204.66 L109.70,204.80 L110.20,205.38 L110.70,206.12 L111.20,206.76 L111.70,207.23 L112.20,207.53 L112.70,207.75 L113.20,207.92 L113.70,208.09 L114.20,208.26 L114.70,208.43 L115.20,208.61 L115.70,208.78 L116.20,208.96 L116.70,209.13 L117.20,209.31 L117.70,209.49 L118.20,209.66 L118.70,209.83 L119.20,210.01 L119.70,210.17 L120.20,210.34 L120.70,210.50 L121.20,210.65 L121.70,210.79 L122.20,210.93 L122.70,211.05 L123.20,211.16 L123.70,211.27 L124.20,211.37 L124.70,211.47 L125.20,211.56 L125.70,211.66 L126.20,211.75 L126.70,211.84 L127.20,211.93 L127.70,212.02 L128.20,212.11 L128.70,212.19 L129.20,212.28 L129.70,212.37 L130.20,212.46 L130.70,212.55 L131.20,212.64 L131.70,212.73 L132.20,212.82 L132.70,212.91 L133.20,213.00 L133.70,213.10 L134.20,213.20 L134.70,213.30 L135.20,213.40 L135.70,213.52 L136.20,213.63 L136.70,213.76 L137.20,213.89 L137.70,214.03 L138.20,214.17 L138.70,214.32 L139.20,214.46 L139.70,214.61 L140.20,214.76 L140.70,214.91 L141.20,215.06 L141.70,215.21 L142.20,215.36 L142.70,215.51 L143.20,215.66 L143.70,215.82 L144.20,215.97 L144.70,216.13 L145.20,216.30 L145.70,216.47 L146.20,216.64 L146.70,216.82 L147.20,217.01 L147.70,217.20 L148.20,217.39 L148.70,217.58 L149.20,217.78 L149.70,217.98 L150.20,218.18 L150.70,218.38 L151.20,218.58 L151.70,218.78 L152.20,218.98 L152.70,219.18 L153.20,219.38 L153.70,219.58 L154.20,219.79 L154.70,219.99 L155.20,220.20 L155.70,220.41 L156.20,220.62 L156.70,220.84 L157.20,221.05 L157.70,221.27 L158.20,221.49 L158.70,221.72 L159.20,221.94 L159.70,222.17 L160.20,222.39 L160.70,222.61 L161.20,222.84 L161.70,223.06 L162.20,223.29 L162.70,223.52 L163.20,223.74 L163.70,223.97 L164.20,224.19 L164.70,224.42 L165.20,224.65 L165.70,224.88 L166.20,225.11 L166.70,225.35 L167.20,225.58 L167.70,225.82 L168.20,226.06 L168.70,226.30 L169.20,226.54 L169.70,226.78 L170.20,227.02 L170.70,227.26 L171.20,227.50 L171.70,227.74 L172.20,227.98 L172.70,228.22 L173.20,228.46 L173.70,228.71 L174.20,228.96 L174.70,229.22 L175.20,229.49 L175.70,229.77 L176.20,230.05 L176.70,230.35 L177.20,230.66 L177.70,230.97 L178.20,231.29 L178.70,231.62 L179.20,231.95 L179.70,232.28 L180.20,232.62 L180.70,232.95 L181.20,233.28 L181.70,233.61 L182.20,233.93 L182.70,234.25 L183.20,234.56 L183.70,234.85 L184.20,235.14 L184.70,235.40 L185.20,235.66 L185.70,235.89 L186.20,236.12 L186.70,236.33 L187.20,236.54 L187.70,236.74 L188.20,236.94 L188.70,237.14 L189.20,237.34 L189.70,237.53 L190.20,237.73 L190.70,237.92 L191.20,238.12 L191.70,238.31 L192.20,238.51 L192.70,238.70 L193.20,238.90 L193.70,239.09 L194.20,239.28 L194.70,239.48 L195.20,239.66 L195.70,239.85 L196.20,240.03 L196.70,240.20 L197.20,240.36 L197.70,240.52 L198.20,240.67 L198.70,240.81 L199.20,240.95 L199.70,241.08 L200.20,241.21 L200.70,241.33 L201.20,241.46 L201.70,241.58 L202.20,241.70 L202.70,241.83 L203.20,241.95 L203.70,242.07 L204.20,242.19 L204.70,242.32 L205.20,242.44 L205.70,242.56 L206.20,242.69 L206.70,242.81 L207.20,242.93 L207.70,243.05 L208.20,243.18 L208.70,243.30 L209.20,243.42 L209.70,243.55 L210.20,243.68 L210.70,243.81 L211.20,243.95 L211.70,244.10 L212.20,244.28 L212.70,244.49 L213.20,244.73 L213.70,245.03 L214.20,245.38 L214.70,245.79 L215.20,246.24 L215.70,246.74" fill="none" stroke="#161616" stroke-width="1.45" stroke-linejoin="round" stroke-linecap="round"/>
<path d="M33.20,239.60 L33.70,239.33 L34.20,239.05 L34.70,238.78 L35.20,238.50 L35.70,238.23 L36.20,237.95 L36.70,237.68 L37.20,237.40 L37.70,237.13 L38.20,236.86 L38.70,236.58 L39.20,236.31 L39.70,236.03 L40.20,235.76 L40.70,235.48 L41.20,235.21 L41.70,234.93 L42.20,234.66 L42.70,234.39 L43.20,234.11 L43.70,233.84 L44.20,233.56 L44.70,233.29 L45.20,233.01 L45.70,232.74 L46.20,232.46 L46.70,232.19 L47.20,231.92 L47.70,231.65 L48.20,231.38 L48.70,231.11 L49.20,230.85 L49.70,230.59 L50.20,230.34 L50.70,230.11 L51.20,229.88 L51.70,229.67 L52.20,229.47 L52.70,229.29 L53.20,229.11 L53.70,228.95 L54.20,228.79 L54.70,228.64 L55.20,228.49 L55.70,228.35 L56.20,228.21 L56.70,228.06 L57.20,227.92 L57.70,227.78 L58.20,227.64 L58.70,227.50 L59.20,227.36 L59.70,227.22 L60.20,227.08 L60.70,226.94 L61.20,226.79 L61.70,226.65 L62.20,226.51 L62.70,226.37 L63.20,226.23 L63.70,226.09 L64.20,225.95 L64.70,225.81 L65.20,225.67 L65.70,225.53 L66.20,225.39 L66.70,225.24 L67.20,225.10 L67.70,224.96 L68.20,224.82 L68.70,224.68 L69.20,224.54 L69.70,224.40 L70.20,224.26 L70.70,224.12 L71.20,223.98 L71.70,223.83 L72.20,223.69 L72.70,223.55 L73.20,223.41 L73.70,223.27 L74.20,223.13 L74.70,222.98 L75.20,222.84 L75.70,222.70 L76.20,222.55 L76.70,222.41 L77.20,222.27 L77.70,222.13 L78.20,221.98 L78.70,221.84 L79.20,221.70 L79.70,221.55 L80.20,221.41 L80.70,221.27 L81.20,221.12 L81.70,220.98 L82.20,220.84 L82.70,220.69 L83.20,220.55 L83.70,220.41 L84.20,220.26 L84.70,220.12 L85.20,219.98 L85.70,219.83 L86.20,219.69 L86.70,219.55 L87.20,219.42 L87.70,219.28 L88.20,219.15 L88.70,219.04 L89.20,218.93 L89.70,218.84 L90.20,218.76 L90.70,218.71 L91.20,218.67 L91.70,218.65 L92.20,218.65 L92.70,218.66 L93.20,218.68 L93.70,218.71 L94.20,218.75 L94.70,218.80 L95.20,218.84 L95.70,218.89 L96.20,218.94 L96.70,218.98 L97.20,219.03 L97.70,219.08 L98.20,219.13 L98.70,219.18 L99.20,219.22 L99.70,219.27 L100.20,219.32 L100.70,219.36 L101.20,219.41 L101.70,219.45 L102.20,219.49 L102.70,219.53 L103.20,219.56 L103.70,219.60 L104.20,219.63 L104.70,219.67 L105.20,219.70 L105.70,219.73 L106.20,219.77 L106.70,219.80 L107.20,219.84 L107.70,219.89 L108.20,219.94 L108.70,220.00 L109.20,220.07 L109.70,220.16 L110.20,220.26 L110.70,220.37 L111.20,220.49 L111.70,220.63 L112.20,220.77 L112.70,220.92 L113.20,221.08 L113.70,221.24 L114.20,221.40 L114.70,221.57 L115.20,221.73 L115.70,221.90 L116.20,222.07 L116.70,222.23 L117.20,222.40 L117.70,222.57 L118.20,222.73 L118.70,222.90 L119.20,223.06 L119.70,223.22 L120.20,223.38 L120.70,223.53 L121.20,223.68 L121.70,223.82 L122.20,223.96 L122.70,224.09 L123.20,224.22 L123.70,224.34 L124.20,224.46 L124.70,224.57 L125.20,224.68 L125.70,224.79 L126.20,224.90 L126.70,225.01 L127.20,225.11 L127.70,225.22 L128.20,225.33 L128.70,225.44 L129.20,225.54 L129.70,225.65 L130.20,225.76 L130.70,225.86 L131.20,225.97 L131.70,226.08 L132.20,226.19 L132.70,226.29 L133.20,226.40 L133.70,226.51 L134.20,226.62 L134.70,226.73 L135.20,226.85 L135.70,226.96 L136.20,227.08 L136.70,227.19 L137.20,227.31 L137.70,227.43 L138.20,227.55 L138.70,227.68 L139.20,227.80 L139.70,227.93 L140.20,228.05 L140.70,228.18 L141.20,228.30 L141.70,228.43 L142.20,228.55 L142.70,228.68 L143.20,228.81 L143.70,228.94 L144.20,229.08 L144.70,229.22 L145.20,229.37 L145.70,229.52 L146.20,229.69 L146.70,229.85 L147.20,230.03 L147.70,230.21 L148.20,230.40 L148.70,230.59 L149.20,230.79 L149.70,230.98 L150.20,231.18 L150.70,231.38 L151.20,231.58 L151.70,231.78 L152.20,231.98 L152.70,232.18 L153.20,232.38 L153.70,232.59 L154.20,232.79 L154.70,233.00 L155.20,233.20 L155.70,233.41 L156.20,233.63 L156.70,233.84 L157.20,234.06 L157.70,234.28 L158.20,234.50 L158.70,234.72 L159.20,234.94 L159.70,235.17 L160.20,235.39 L160.70,235.62 L161.20,235.84 L161.70,236.07 L162.20,236.29 L162.70,236.52 L163.20,236.75 L163.70,236.98 L164.20,237.21 L164.70,237.44 L165.20,237.68 L165.70,237.92 L166.20,238.17 L166.70,238.42 L167.20,238.68 L167.70,238.94 L168.20,239.20 L168.70,239.47 L169.20,239.73 L169.70,240.00 L170.20,240.27 L170.70,240.54 L171.20,240.81 L171.70,241.08 L172.20,241.35 L172.70,241.62 L173.20,241.89 L173.70,242.16 L174.20,242.44 L174.70,242.71 L175.20,242.98 L175.70,243.26 L176.20,243.54 L176.70,243.82 L177.20,244.10 L177.70,244.39 L178.20,244.67 L178.70,244.96 L179.20,245.25 L179.70,245.53 L180.20,245.82 L180.70,246.10 L181.20,246.38 L181.70,246.66 L182.20,246.94 L182.70,247.20 L183.20,247.45 L183.70,247.69 L184.20,247.92 L184.70,248.13 L185.20,248.33 L185.70,248.51 L186.20,248.68 L186.70,248.83 L187.20,248.98 L187.70,249.13 L188.20,249.27 L188.70,249.41 L189.20,249.55 L189.70,249.69 L190.20,249.83 L190.70,249.98 L191.20,250.14 L191.70,250.30 L192.20,250.46 L192.70,250.63 L193.20,250.80 L193.70,250.98 L194.20,251.15 L194.70,251.33 L195.20,251.51 L195.70,251.68 L196.20,251.86 L196.70,252.04 L197.20,252.22 L197.70,252.40 L198.20,252.58 L198.70,252.76 L199.20,252.94 L199.70,253.12 L200.20,253.30 L200.70,253.47 L201.20,253.65 L201.70,253.83 L202.20,254.00 L202.70,254.18 L203.20,254.36 L203.70,254.53 L204.20,254.70 L204.70,254.87 L205.20,255.05 L205.70,255.22 L206.20,255.39 L206.70,255.56 L207.20,255.73 L207.70,255.90 L208.20,256.07 L208.70,256.25 L209.20,256.42 L209.70,256.60 L210.20,256.79 L210.70,256.99 L211.20,257.20 L211.70,257.43 L212.20,257.68 L212.70,257.95 L213.20,258.24 L213.70,258.55 L214.20,258.88 L214.70,259.23 L215.20,259.59" fill="none" stroke="#161616" stroke-width="1.45" stroke-linejoin="round" stroke-linecap="round"/>
<path d="M33.20,251.00 L33.70,250.72 L34.20,250.44 L34.70,250.16 L35.20,249.88 L35.70,249.60 L36.20,249.31 L36.70,249.03 L37.20,248.75 L37.70,248.47 L38.20,248.19 L38.70,247.91 L39.20,247.63 L39.70,247.35 L40.20,247.07 L40.70,246.79 L41.20,246.51 L41.70,246.22 L42.20,245.94 L42.70,245.66 L43.20,245.38 L43.70,245.10 L44.20,244.82 L44.70,244.54 L45.20,244.26 L45.70,243.98 L46.20,243.70 L46.70,243.42 L47.20,243.14 L47.70,242.87 L48.20,242.60 L48.70,242.34 L49.20,242.08 L49.70,241.83 L50.20,241.59 L50.70,241.36 L51.20,241.14 L51.70,240.94 L52.20,240.75 L52.70,240.56 L53.20,240.39 L53.70,240.22 L54.20,240.06 L54.70,239.90 L55.20,239.75 L55.70,239.59 L56.20,239.44 L56.70,239.29 L57.20,239.14 L57.70,238.99 L58.20,238.84 L58.70,238.69 L59.20,238.54 L59.70,238.39 L60.20,238.24 L60.70,238.09 L61.20,237.94 L61.70,237.79 L62.20,237.64 L62.70,237.49 L63.20,237.34 L63.70,237.19 L64.20,237.04 L64.70,236.89 L65.20,236.74 L65.70,236.59 L66.20,236.44 L66.70,236.29 L67.20,236.14 L67.70,235.99 L68.20,235.85 L68.70,235.70 L69.20,235.55 L69.70,235.41 L70.20,235.27 L70.70,235.13 L71.20,234.99 L71.70,234.85 L72.20,234.72 L72.70,234.59 L73.20,234.46 L73.70,234.33 L74.20,234.20 L74.70,234.08 L75.20,233.95 L75.70,233.83 L76.20,233.70 L76.70,233.58 L77.20,233.45 L77.70,233.33 L78.20,233.20 L78.70,233.08 L79.20,232.95 L79.70,232.83 L80.20,232.70 L80.70,232.57 L81.20,232.45 L81.70,232.32 L82.20,232.20 L82.70,232.08 L83.20,231.95 L83.70,231.83 L84.20,231.70 L84.70,231.58 L85.20,231.45 L85.70,231.33 L86.20,231.20 L86.70,231.08 L87.20,230.96 L87.70,230.85 L88.20,230.73 L88.70,230.63 L89.20,230.53 L89.70,230.45 L90.20,230.38 L90.70,230.32 L91.20,230.27 L91.70,230.24 L92.20,230.23 L92.70,230.23 L93.20,230.23 L93.70,230.25 L94.20,230.28 L94.70,230.31 L95.20,230.34 L95.70,230.38 L96.20,230.41 L96.70,230.45 L97.20,230.49 L97.70,230.53 L98.20,230.57 L98.70,230.61 L99.20,230.65 L99.70,230.69 L100.20,230.73 L100.70,230.77 L101.20,230.81 L101.70,230.84 L102.20,230.88 L102.70,230.92 L103.20,230.96 L103.70,231.00 L104.20,231.04 L104.70,231.08 L105.20,231.12 L105.70,231.16 L106.20,231.20 L106.70,231.25 L107.20,231.29 L107.70,231.34 L108.20,231.39 L108.70,231.45 L109.20,231.51 L109.70,231.57 L110.20,231.64 L110.70,231.72 L111.20,231.80 L111.70,231.89 L112.20,231.98 L112.70,232.08 L113.20,232.18 L113.70,232.28 L114.20,232.38 L114.70,232.48 L115.20,232.58 L115.70,232.69 L116.20,232.79 L116.70,232.90 L117.20,233.00 L117.70,233.11 L118.20,233.21 L118.70,233.32 L119.20,233.43 L119.70,233.54 L120.20,233.65 L120.70,233.77 L121.20,233.89 L121.70,234.02 L122.20,234.15 L122.70,234.29 L123.20,234.43 L123.70,234.58 L124.20,234.73 L124.70,234.88 L125.20,235.04 L125.70,235.19 L126.20,235.35 L126.70,235.51 L127.20,235.67 L127.70,235.83 L128.20,235.99 L128.70,236.15 L129.20,236.31 L129.70,236.47 L130.20,236.64 L130.70,236.80 L131.20,236.96 L131.70,237.12 L132.20,237.28 L132.70,237.44 L133.20,237.60 L133.70,237.76 L134.20,237.92 L134.70,238.07 L135.20,238.23 L135.70,238.39 L136.20,238.54 L136.70,238.70 L137.20,238.85 L137.70,239.00 L138.20,239.16 L138.70,239.31 L139.20,239.46 L139.70,239.61 L140.20,239.76 L140.70,239.91 L141.20,240.06 L141.70,240.21 L142.20,240.36 L142.70,240.52 L143.20,240.67 L143.70,240.83 L144.20,240.99 L144.70,241.15 L145.20,241.31 L145.70,241.48 L146.20,241.66 L146.70,241.84 L147.20,242.02 L147.70,242.21 L148.20,242.40 L148.70,242.59 L149.20,242.79 L149.70,242.98 L150.20,243.18 L150.70,243.38 L151.20,243.58 L151.70,243.78 L152.20,243.98 L152.70,244.19 L153.20,244.39 L153.70,244.60 L154.20,244.81 L154.70,245.02 L155.20,245.23 L155.70,245.45 L156.20,245.68 L156.70,245.91 L157.20,246.14 L157.70,246.38 L158.20,246.62 L158.70,246.86 L159.20,247.11 L159.70,247.35 L160.20,247.60 L160.70,247.85 L161.20,248.10 L161.70,248.35 L162.20,248.60 L162.70,248.85 L163.20,249.09 L163.70,249.34 L164.20,249.59 L164.70,249.83 L165.20,250.07 L165.70,250.31 L166.20,250.55 L166.70,250.79 L167.20,251.02 L167.70,251.25 L168.20,251.48 L168.70,251.71 L169.20,251.94 L169.70,252.16 L170.20,252.39 L170.70,252.61 L171.20,252.84 L171.70,253.06 L172.20,253.29 L172.70,253.51 L173.20,253.74 L173.70,253.96 L174.20,254.19 L174.70,254.41 L175.20,254.63 L175.70,254.85 L176.20,255.08 L176.70,255.30 L177.20,255.52 L177.70,255.74 L178.20,255.95 L178.70,256.17 L179.20,256.39 L179.70,256.61 L180.20,256.83 L180.70,257.05 L181.20,257.26 L181.70,257.48 L182.20,257.70 L182.70,257.91 L183.20,258.13 L183.70,258.34 L184.20,258.56 L184.70,258.77 L185.20,258.98 L185.70,259.19 L186.20,259.39 L186.70,259.59 L187.20,259.78 L187.70,259.97 L188.20,260.16 L188.70,260.35 L189.20,260.53 L189.70,260.71 L190.20,260.89 L190.70,261.07 L191.20,261.25 L191.70,261.42 L192.20,261.60 L192.70,261.78 L193.20,261.95 L193.70,262.13 L194.20,262.30 L194.70,262.47 L195.20,262.65 L195.70,262.82 L196.20,262.99 L196.70,263.16 L197.20,263.32 L197.70,263.48 L198.20,263.64 L198.70,263.80 L199.20,263.96 L199.70,264.11 L200.20,264.26 L200.70,264.41 L201.20,264.56 L201.70,264.71 L202.20,264.86 L202.70,265.01 L203.20,265.16 L203.70,265.31 L204.20,265.46 L204.70,265.61 L205.20,265.76 L205.70,265.91 L206.20,266.07 L206.70,266.23 L207.20,266.39 L207.70,266.56 L208.20,266.73 L208.70,266.91 L209.20,267.10 L209.70,267.30 L210.20,267.52 L210.70,267.75 L211.20,268.01 L211.70,268.29 L212.20,268.60 L212.70,268.96 L213.20,269.35 L213.70,269.80 L214.20,270.28 L214.70,270.81 L215.20,271.37" fill="none" stroke="#161616" stroke-width="1.45" stroke-linejoin="round" stroke-linecap="round"/>
<path d="M33.40,264.00 L33.90,263.69 L34.40,263.38 L34.90,263.06 L35.40,262.75 L35.90,262.44 L36.40,262.13 L36.90,261.81 L37.40,261.50 L37.90,261.19 L38.40,260.88 L38.90,260.56 L39.40,260.25 L39.90,259.94 L40.40,259.62 L40.90,259.31 L41.40,259.00 L41.90,258.69 L42.40,258.38 L42.90,258.06 L43.40,257.75 L43.90,257.44 L44.40,257.13 L44.90,256.81 L45.40,256.50 L45.90,256.19 L46.40,255.88 L46.90,255.58 L47.40,255.27 L47.90,254.97 L48.40,254.68 L48.90,254.39 L49.40,254.12 L49.90,253.85 L50.40,253.60 L50.90,253.36 L51.40,253.13 L51.90,252.92 L52.40,252.72 L52.90,252.53 L53.40,252.34 L53.90,252.17 L54.40,252.01 L54.90,251.85 L55.40,251.69 L55.90,251.54 L56.40,251.38 L56.90,251.23 L57.40,251.08 L57.90,250.93 L58.40,250.78 L58.90,250.63 L59.40,250.48 L59.90,250.33 L60.40,250.18 L60.90,250.03 L61.40,249.88 L61.90,249.73 L62.40,249.58 L62.90,249.43 L63.40,249.28 L63.90,249.13 L64.40,248.98 L64.90,248.83 L65.40,248.68 L65.90,248.53 L66.40,248.38 L66.90,248.23 L67.40,248.09 L67.90,247.94 L68.40,247.79 L68.90,247.65 L69.40,247.51 L69.90,247.37 L70.40,247.23 L70.90,247.10 L71.40,246.97 L71.90,246.85 L72.40,246.73 L72.90,246.61 L73.40,246.49 L73.90,246.37 L74.40,246.26 L74.90,246.15 L75.40,246.03 L75.90,245.92 L76.40,245.81 L76.90,245.70 L77.40,245.59 L77.90,245.48 L78.40,245.37 L78.90,245.26 L79.40,245.15 L79.90,245.04 L80.40,244.93 L80.90,244.82 L81.40,244.71 L81.90,244.60 L82.40,244.49 L82.90,244.38 L83.40,244.27 L83.90,244.16 L84.40,244.05 L84.90,243.94 L85.40,243.83 L85.90,243.73 L86.40,243.62 L86.90,243.52 L87.40,243.42 L87.90,243.32 L88.40,243.23 L88.90,243.15 L89.40,243.07 L89.90,243.01 L90.40,242.96 L90.90,242.92 L91.40,242.90 L91.90,242.89 L92.40,242.90 L92.90,242.91 L93.40,242.94 L93.90,242.97 L94.40,243.01 L94.90,243.06 L95.40,243.11 L95.90,243.16 L96.40,243.21 L96.90,243.27 L97.40,243.32 L97.90,243.38 L98.40,243.43 L98.90,243.49 L99.40,243.55 L99.90,243.60 L100.40,243.66 L100.90,243.71 L101.40,243.77 L101.90,243.83 L102.40,243.88 L102.90,243.94 L103.40,244.00 L103.90,244.06 L104.40,244.12 L104.90,244.19 L105.40,244.26 L105.90,244.33 L106.40,244.40 L106.90,244.48 L107.40,244.56 L107.90,244.65 L108.40,244.74 L108.90,244.83 L109.40,244.92 L109.90,245.02 L110.40,245.12 L110.90,245.23 L111.40,245.33 L111.90,245.43 L112.40,245.54 L112.90,245.64 L113.40,245.75 L113.90,245.85 L114.40,245.96 L114.90,246.06 L115.40,246.17 L115.90,246.27 L116.40,246.38 L116.90,246.48 L117.40,246.59 L117.90,246.69 L118.40,246.80 L118.90,246.90 L119.40,247.01 L119.90,247.11 L120.40,247.22 L120.90,247.32 L121.40,247.43 L121.90,247.53 L122.40,247.64 L122.90,247.74 L123.40,247.85 L123.90,247.95 L124.40,248.06 L124.90,248.17 L125.40,248.27 L125.90,248.38 L126.40,248.48 L126.90,248.59 L127.40,248.69 L127.90,248.80 L128.40,248.90 L128.90,249.01 L129.40,249.11 L129.90,249.22 L130.40,249.32 L130.90,249.43 L131.40,249.53 L131.90,249.64 L132.40,249.75 L132.90,249.86 L133.40,249.97 L133.90,250.08 L134.40,250.20 L134.90,250.31 L135.40,250.44 L135.90,250.56 L136.40,250.69 L136.90,250.82 L137.40,250.96 L137.90,251.10 L138.40,251.24 L138.90,251.38 L139.40,251.53 L139.90,251.68 L140.40,251.82 L140.90,251.97 L141.40,252.12 L141.90,252.28 L142.40,252.43 L142.90,252.59 L143.40,252.75 L143.90,252.91 L144.40,253.07 L144.90,253.25 L145.40,253.42 L145.90,253.61 L146.40,253.80 L146.90,253.99 L147.40,254.19 L147.90,254.40 L148.40,254.61 L148.90,254.82 L149.40,255.04 L149.90,255.26 L150.40,255.48 L150.90,255.71 L151.40,255.93 L151.90,256.16 L152.40,256.38 L152.90,256.61 L153.40,256.83 L153.90,257.06 L154.40,257.28 L154.90,257.51 L155.40,257.73 L155.90,257.96 L156.40,258.18 L156.90,258.41 L157.40,258.63 L157.90,258.86 L158.40,259.08 L158.90,259.31 L159.40,259.53 L159.90,259.76 L160.40,259.98 L160.90,260.21 L161.40,260.43 L161.90,260.66 L162.40,260.88 L162.90,261.11 L163.40,261.34 L163.90,261.56 L164.40,261.79 L164.90,262.02 L165.40,262.25 L165.90,262.48 L166.40,262.72 L166.90,262.95 L167.40,263.18 L167.90,263.42 L168.40,263.66 L168.90,263.90 L169.40,264.13 L169.90,264.37 L170.40,264.61 L170.90,264.85 L171.40,265.09 L171.90,265.33 L172.40,265.57 L172.90,265.81 L173.40,266.06 L173.90,266.30 L174.40,266.54 L174.90,266.78 L175.40,267.03 L175.90,267.27 L176.40,267.52 L176.90,267.76 L177.40,268.01 L177.90,268.26 L178.40,268.50 L178.90,268.75 L179.40,269.00 L179.90,269.25 L180.40,269.50 L180.90,269.75 L181.40,270.00 L181.90,270.25 L182.40,270.50 L182.90,270.74 L183.40,270.99 L183.90,271.23 L184.40,271.47 L184.90,271.70 L185.40,271.93 L185.90,272.16 L186.40,272.38 L186.90,272.59 L187.40,272.80 L187.90,273.00 L188.40,273.19 L188.90,273.38 L189.40,273.56 L189.90,273.74 L190.40,273.92 L190.90,274.10 L191.40,274.27 L191.90,274.44 L192.40,274.62 L192.90,274.79 L193.40,274.96 L193.90,275.13 L194.40,275.30 L194.90,275.47 L195.40,275.64 L195.90,275.81 L196.40,275.97 L196.90,276.14 L197.40,276.30 L197.90,276.46 L198.40,276.62 L198.90,276.78 L199.40,276.94 L199.90,277.09 L200.40,277.25 L200.90,277.40 L201.40,277.56 L201.90,277.71 L202.40,277.87 L202.90,278.02 L203.40,278.17 L203.90,278.33 L204.40,278.48 L204.90,278.64 L205.40,278.79 L205.90,278.95 L206.40,279.11 L206.90,279.27 L207.40,279.44 L207.90,279.61 L208.40,279.78 L208.90,279.96 L209.40,280.15 L209.90,280.34 L210.40,280.54 L210.90,280.74 L211.40,280.96 L211.90,281.19 L212.40,281.44 L212.90,281.70 L213.40,281.99 L213.90,282.29 L214.40,282.62 L214.90,282.97 L215.40,283.33 L215.90,283.72 L216.15,283.92" fill="none" stroke="#161616" stroke-width="1.45" stroke-linejoin="round" stroke-linecap="round"/>
<path d="M321.20,149.19 L321.70,148.96 L322.20,148.72 L322.70,148.48 L323.20,148.24 L323.70,148.01 L324.20,147.77 L324.70,147.53 L325.20,147.30 L325.70,147.06 L326.20,146.82 L326.70,146.58 L327.20,146.35 L327.70,146.11 L328.20,145.87 L328.70,145.63 L329.20,145.38 L329.70,145.14 L330.20,144.89 L330.70,144.64 L331.20,144.39 L331.70,144.14 L332.20,143.89 L332.70,143.64 L333.20,143.39 L333.70,143.14 L334.20,142.89 L334.70,142.64 L335.20,142.39 L335.70,142.14 L336.20,141.89 L336.70,141.64 L337.20,141.39 L337.70,141.15 L338.20,140.91 L338.70,140.68 L339.20,140.47 L339.70,140.28 L340.20,140.10 L340.70,139.92 L341.20,139.75 L341.70,139.59 L342.20,139.42 L342.70,139.25 L343.20,139.07 L343.70,138.90 L344.20,138.71 L344.70,138.52 L345.20,138.31 L345.70,138.07 L346.20,137.80 L346.70,137.48 L347.20,137.09 L347.70,136.64 L348.20,136.11 L348.70,135.51 L349.20,134.87 L349.70,134.22 L350.20,133.59 L350.70,133.03 L351.20,132.58 L351.70,132.27 L352.20,132.13 L352.70,132.14 L353.20,132.31 L353.70,132.59 L354.20,132.95 L354.70,133.34 L355.20,133.72 L355.70,134.07 L356.20,134.35 L356.70,134.56 L357.20,134.70 L357.70,134.77 L358.20,134.78 L358.70,134.75 L359.20,134.68 L359.70,134.58 L360.20,134.47 L360.70,134.35 L361.20,134.22 L361.70,134.08 L362.20,133.95 L362.70,133.80 L363.20,133.65 L363.70,133.49 L364.20,133.31 L364.70,133.12 L365.20,132.91 L365.70,132.69 L366.20,132.47 L366.70,132.25 L367.20,132.03 L367.70,131.81 L368.20,131.58 L368.70,131.36 L369.20,131.13 L369.70,130.90 L370.20,130.67 L370.70,130.44 L371.20,130.20 L371.70,129.96 L372.20,129.70 L372.70,129.44 L373.20,129.16 L373.70,128.87 L374.20,128.57 L374.70,128.23 L375.20,127.74 L375.70,126.93 L376.20,125.52 L376.70,123.41 L377.20,120.87 L377.70,118.83 L378.20,118.52 L378.70,120.12 L379.20,122.48 L379.70,124.56 L380.20,125.97 L380.70,126.77 L381.20,127.21 L381.70,127.49 L382.20,127.71 L382.70,127.91 L383.20,128.09 L383.70,128.25 L384.20,128.37 L384.70,128.43 L385.20,128.42 L385.70,128.33 L386.20,128.18 L386.70,127.99 L387.20,127.77 L387.70,127.55 L388.20,127.31 L388.70,127.08 L389.20,126.84 L389.70,126.59 L390.20,126.36 L390.70,126.14 L391.20,125.95 L391.70,125.77 L392.20,125.57 L392.70,125.30 L393.20,124.80 L393.70,123.70 L394.20,121.25 L394.70,116.25 L395.20,107.31 L395.70,93.76 L396.20,76.77 L396.70,60.03 L397.20,49.11 L397.70,48.51 L398.20,57.75 L398.70,72.01 L399.20,86.32 L399.70,97.81 L400.20,105.94 L400.70,111.53 L401.20,115.63 L401.70,118.87 L402.20,121.45 L402.70,123.42 L403.20,124.83 L403.70,125.80 L404.20,126.47 L404.70,127.00 L405.20,127.46 L405.70,127.89 L406.20,128.30 L406.70,128.70 L407.20,129.07 L407.70,129.42 L408.20,129.72 L408.70,129.98 L409.20,130.21 L409.70,130.42 L410.20,130.61 L410.70,130.81 L411.20,131.00 L411.70,131.18 L412.20,131.37 L412.70,131.55 L413.20,131.73 L413.70,131.89 L414.20,132.02 L414.70,132.08 L415.20,132.04 L415.70,131.89 L416.20,131.57 L416.70,131.04 L417.20,130.20 L417.70,128.92 L418.20,127.07 L418.70,124.54 L419.20,121.29 L419.70,117.46 L420.20,113.38 L420.70,109.53 L421.20,106.50 L421.70,104.81 L422.20,104.80 L422.70,106.48 L423.20,109.60 L423.70,113.64 L424.20,118.04 L424.70,122.25 L425.20,125.91 L425.70,128.84 L426.20,131.04 L426.70,132.60 L427.20,133.68 L427.70,134.44 L428.20,134.99 L428.70,135.42 L429.20,135.79 L429.70,136.12 L430.20,136.42 L430.70,136.69 L431.20,136.93 L431.70,137.15 L432.20,137.33 L432.70,137.49 L433.20,137.62 L433.70,137.70 L434.20,137.73 L434.70,137.70 L435.20,137.62 L435.70,137.52 L436.20,137.41 L436.70,137.32 L437.20,137.27 L437.70,137.29 L438.20,137.40 L438.70,137.61 L439.20,137.90 L439.70,138.23 L440.20,138.59 L440.70,138.95 L441.20,139.31 L441.70,139.66 L442.20,140.00 L442.70,140.32 L443.20,140.62 L443.70,140.92 L444.20,141.22 L444.70,141.51 L445.20,141.79 L445.70,142.06 L446.20,142.31 L446.70,142.52 L447.20,142.69 L447.70,142.80 L448.20,142.87 L448.70,142.91 L449.20,142.92 L449.70,142.90 L450.20,142.83 L450.70,142.66 L451.20,142.24 L451.70,141.33 L452.20,139.55 L452.70,136.57 L453.20,132.54 L453.70,128.40 L454.20,126.00 L454.70,126.90 L455.20,130.34 L455.70,134.34 L456.20,137.55 L456.70,139.58 L457.20,140.61 L457.70,141.06 L458.20,141.23 L458.70,141.31 L459.20,141.38 L459.70,141.51 L460.20,141.71 L460.70,142.00 L461.20,142.35 L461.70,142.74 L462.20,143.12 L462.70,143.46 L463.20,143.75 L463.70,143.98 L464.20,144.17 L464.70,144.32 L465.20,144.45 L465.70,144.54 L466.20,144.58 L466.70,144.53 L467.20,144.36 L467.70,144.08 L468.20,143.72 L468.70,143.37 L469.20,143.12 L469.70,143.08 L470.20,143.33 L470.70,143.88 L471.20,144.67 L471.70,145.61 L472.20,146.61 L472.70,147.63 L473.20,148.59 L473.70,149.43 L474.20,150.05 L474.70,150.40 L475.20,150.46 L475.70,150.29 L476.20,149.98 L476.70,149.60 L477.20,149.19 L477.70,148.77 L478.20,148.35 L478.70,147.94 L479.20,147.55 L479.70,147.22 L480.20,147.03 L480.70,147.06 L481.20,147.38 L481.70,148.00 L482.20,148.86 L482.70,149.86 L483.20,150.92 L483.70,151.98 L484.20,152.96 L484.70,153.82 L485.20,154.50 L485.70,155.00 L486.20,155.36 L486.70,155.63 L487.20,155.86 L487.70,156.06 L488.20,156.26 L488.70,156.45 L489.20,156.61 L489.70,156.74 L490.20,156.82 L490.70,156.85 L491.20,156.84 L491.70,156.81 L492.20,156.77 L492.70,156.72 L493.20,156.67 L493.70,156.61 L494.20,156.54 L494.70,156.46 L495.20,156.35 L495.70,156.22 L496.20,156.07 L496.70,155.88 L497.20,155.66 L497.70,155.37 L498.20,155.00 L498.70,154.56 L499.20,154.07 L499.70,153.57 L500.20,153.11 L500.70,152.76 L501.20,152.55 L501.70,152.50 L502.20,152.56 L502.70,152.70 L503.20,152.88 L503.45,152.98" fill="none" stroke="#161616" stroke-width="1.45" stroke-linejoin="round" stroke-linecap="round"/>
<path d="M321.20,169.49 L321.70,169.24 L322.20,168.98 L322.70,168.72 L323.20,168.47 L323.70,168.21 L324.20,167.95 L324.70,167.70 L325.20,167.44 L325.70,167.19 L326.20,166.93 L326.70,166.67 L327.20,166.42 L327.70,166.16 L328.20,165.90 L328.70,165.65 L329.20,165.40 L329.70,165.14 L330.20,164.89 L330.70,164.64 L331.20,164.39 L331.70,164.14 L332.20,163.89 L332.70,163.64 L333.20,163.39 L333.70,163.15 L334.20,162.91 L334.70,162.68 L335.20,162.46 L335.70,162.26 L336.20,162.07 L336.70,161.89 L337.20,161.70 L337.70,161.53 L338.20,161.35 L338.70,161.17 L339.20,160.99 L339.70,160.81 L340.20,160.63 L340.70,160.44 L341.20,160.24 L341.70,160.01 L342.20,159.76 L342.70,159.47 L343.20,159.16 L343.70,158.84 L344.20,158.52 L344.70,158.21 L345.20,157.92 L345.70,157.63 L346.20,157.33 L346.70,157.00 L347.20,156.62 L347.70,156.16 L348.20,155.64 L348.70,155.05 L349.20,154.41 L349.70,153.76 L350.20,153.14 L350.70,152.59 L351.20,152.14 L351.70,151.84 L352.20,151.69 L352.70,151.71 L353.20,151.88 L353.70,152.17 L354.20,152.53 L354.70,152.93 L355.20,153.32 L355.70,153.67 L356.20,153.95 L356.70,154.17 L357.20,154.31 L357.70,154.39 L358.20,154.40 L358.70,154.37 L359.20,154.30 L359.70,154.19 L360.20,154.07 L360.70,153.94 L361.20,153.80 L361.70,153.65 L362.20,153.50 L362.70,153.35 L363.20,153.20 L363.70,153.06 L364.20,152.92 L364.70,152.78 L365.20,152.65 L365.70,152.52 L366.20,152.39 L366.70,152.26 L367.20,152.13 L367.70,152.00 L368.20,151.87 L368.70,151.74 L369.20,151.61 L369.70,151.48 L370.20,151.34 L370.70,151.19 L371.20,151.03 L371.70,150.83 L372.20,150.60 L372.70,150.32 L373.20,150.01 L373.70,149.67 L374.20,149.30 L374.70,148.88 L375.20,148.32 L375.70,147.48 L376.20,146.14 L376.70,144.19 L377.20,141.90 L377.70,140.08 L378.20,139.82 L378.70,141.27 L379.20,143.41 L379.70,145.31 L380.20,146.61 L380.70,147.36 L381.20,147.77 L381.70,148.02 L382.20,148.21 L382.70,148.35 L383.20,148.46 L383.70,148.53 L384.20,148.54 L384.70,148.50 L385.20,148.42 L385.70,148.31 L386.20,148.18 L386.70,148.04 L387.20,147.90 L387.70,147.76 L388.20,147.61 L388.70,147.46 L389.20,147.31 L389.70,147.17 L390.20,147.03 L390.70,146.90 L391.20,146.76 L391.70,146.61 L392.20,146.41 L392.70,146.13 L393.20,145.61 L393.70,144.48 L394.20,142.03 L394.70,137.06 L395.20,128.20 L395.70,114.79 L396.20,97.98 L396.70,81.44 L397.20,70.64 L397.70,70.05 L398.20,79.18 L398.70,93.29 L399.20,107.44 L399.70,118.81 L400.20,126.86 L400.70,132.41 L401.20,136.49 L401.70,139.71 L402.20,142.28 L402.70,144.24 L403.20,145.61 L403.70,146.50 L404.20,147.07 L404.70,147.45 L405.20,147.74 L405.70,148.01 L406.20,148.28 L406.70,148.55 L407.20,148.83 L407.70,149.10 L408.20,149.37 L408.70,149.64 L409.20,149.91 L409.70,150.17 L410.20,150.43 L410.70,150.69 L411.20,150.94 L411.70,151.18 L412.20,151.41 L412.70,151.62 L413.20,151.83 L413.70,152.02 L414.20,152.20 L414.70,152.36 L415.20,152.47 L415.70,152.49 L416.20,152.37 L416.70,152.01 L417.20,151.31 L417.70,150.15 L418.20,148.39 L418.70,145.91 L419.20,142.72 L419.70,138.95 L420.20,134.92 L420.70,131.10 L421.20,128.05 L421.70,126.28 L422.20,126.09 L422.70,127.51 L423.20,130.29 L423.70,133.98 L424.20,138.04 L424.70,141.99 L425.20,145.52 L425.70,148.44 L426.20,150.72 L426.70,152.42 L427.20,153.64 L427.70,154.48 L428.20,155.05 L428.70,155.42 L429.20,155.66 L429.70,155.84 L430.20,155.98 L430.70,156.11 L431.20,156.23 L431.70,156.35 L432.20,156.47 L432.70,156.59 L433.20,156.71 L433.70,156.83 L434.20,156.95 L434.70,157.07 L435.20,157.19 L435.70,157.31 L436.20,157.42 L436.70,157.54 L437.20,157.66 L437.70,157.78 L438.20,157.90 L438.70,158.02 L439.20,158.15 L439.70,158.28 L440.20,158.44 L440.70,158.62 L441.20,158.82 L441.70,159.04 L442.20,159.27 L442.70,159.50 L443.20,159.74 L443.70,159.98 L444.20,160.22 L444.70,160.45 L445.20,160.69 L445.70,160.92 L446.20,161.16 L446.70,161.38 L447.20,161.61 L447.70,161.83 L448.20,162.03 L448.70,162.21 L449.20,162.34 L449.70,162.40 L450.20,162.37 L450.70,162.22 L451.20,161.85 L451.70,161.09 L452.20,159.67 L452.70,157.36 L453.20,154.23 L453.70,150.91 L454.20,148.69 L454.70,148.87 L455.20,151.26 L455.70,154.45 L456.20,157.29 L456.70,159.25 L457.20,160.39 L457.70,160.96 L458.20,161.27 L458.70,161.50 L459.20,161.72 L459.70,161.95 L460.20,162.18 L460.70,162.40 L461.20,162.60 L461.70,162.76 L462.20,162.87 L462.70,162.94 L463.20,162.95 L463.70,162.94 L464.20,162.91 L464.70,162.88 L465.20,162.84 L465.70,162.80 L466.20,162.76 L466.70,162.72 L467.20,162.68 L467.70,162.65 L468.20,162.64 L468.70,162.68 L469.20,162.83 L469.70,163.13 L470.20,163.61 L470.70,164.26 L471.20,165.04 L471.70,165.88 L472.20,166.75 L472.70,167.62 L473.20,168.43 L473.70,169.14 L474.20,169.67 L474.70,169.96 L475.20,170.01 L475.70,169.87 L476.20,169.60 L476.70,169.28 L477.20,168.93 L477.70,168.58 L478.20,168.25 L478.70,167.98 L479.20,167.82 L479.70,167.83 L480.20,168.07 L480.70,168.52 L481.20,169.13 L481.70,169.85 L482.20,170.61 L482.70,171.39 L483.20,172.17 L483.70,172.94 L484.20,173.66 L484.70,174.31 L485.20,174.84 L485.70,175.23 L486.20,175.50 L486.70,175.68 L487.20,175.80 L487.70,175.90 L488.20,175.99 L488.70,176.08 L489.20,176.17 L489.70,176.26 L490.20,176.34 L490.70,176.43 L491.20,176.52 L491.70,176.60 L492.20,176.69 L492.70,176.77 L493.20,176.83 L493.70,176.87 L494.20,176.86 L494.70,176.79 L495.20,176.65 L495.70,176.45 L496.20,176.23 L496.70,175.99 L497.20,175.74 L497.70,175.49 L498.20,175.24 L498.70,174.99 L499.20,174.74 L499.70,174.49 L500.20,174.25 L500.70,174.02 L501.20,173.82 L501.70,173.68 L502.20,173.63 L502.70,173.67 L503.20,173.77 L503.45,173.84" fill="none" stroke="#161616" stroke-width="1.45" stroke-linejoin="round" stroke-linecap="round"/>
<path d="M321.20,183.19 L321.70,182.93 L322.20,182.66 L322.70,182.39 L323.20,182.12 L323.70,181.85 L324.20,181.58 L324.70,181.31 L325.20,181.04 L325.70,180.77 L326.20,180.50 L326.70,180.23 L327.20,179.96 L327.70,179.69 L328.20,179.43 L328.70,179.16 L329.20,178.90 L329.70,178.65 L330.20,178.39 L330.70,178.14 L331.20,177.89 L331.70,177.64 L332.20,177.39 L332.70,177.14 L333.20,176.89 L333.70,176.64 L334.20,176.39 L334.70,176.14 L335.20,175.89 L335.70,175.64 L336.20,175.39 L336.70,175.14 L337.20,174.89 L337.70,174.64 L338.20,174.40 L338.70,174.16 L339.20,173.93 L339.70,173.71 L340.20,173.49 L340.70,173.28 L341.20,173.07 L341.70,172.86 L342.20,172.65 L342.70,172.44 L343.20,172.23 L343.70,172.02 L344.20,171.80 L344.70,171.58 L345.20,171.36 L345.70,171.13 L346.20,170.87 L346.70,170.59 L347.20,170.26 L347.70,169.89 L348.20,169.47 L348.70,169.01 L349.20,168.51 L349.70,168.01 L350.20,167.52 L350.70,167.08 L351.20,166.71 L351.70,166.44 L352.20,166.28 L352.70,166.22 L353.20,166.26 L353.70,166.38 L354.20,166.55 L354.70,166.75 L355.20,166.93 L355.70,167.10 L356.20,167.22 L356.70,167.30 L357.20,167.33 L357.70,167.32 L358.20,167.28 L358.70,167.23 L359.20,167.15 L359.70,167.07 L360.20,166.97 L360.70,166.87 L361.20,166.77 L361.70,166.66 L362.20,166.55 L362.70,166.44 L363.20,166.32 L363.70,166.19 L364.20,166.06 L364.70,165.91 L365.20,165.75 L365.70,165.58 L366.20,165.41 L366.70,165.24 L367.20,165.07 L367.70,164.90 L368.20,164.73 L368.70,164.57 L369.20,164.41 L369.70,164.26 L370.20,164.12 L370.70,164.00 L371.20,163.88 L371.70,163.77 L372.20,163.67 L372.70,163.55 L373.20,163.43 L373.70,163.28 L374.20,163.10 L374.70,162.84 L375.20,162.42 L375.70,161.66 L376.20,160.39 L376.70,158.56 L377.20,156.48 L377.70,155.00 L378.20,155.02 L378.70,156.41 L379.20,158.20 L379.70,159.65 L380.20,160.55 L380.70,160.99 L381.20,161.18 L381.70,161.27 L382.20,161.34 L382.70,161.41 L383.20,161.47 L383.70,161.52 L384.20,161.57 L384.70,161.61 L385.20,161.64 L385.70,161.64 L386.20,161.60 L386.70,161.52 L387.20,161.38 L387.70,161.21 L388.20,161.02 L388.70,160.81 L389.20,160.59 L389.70,160.37 L390.20,160.14 L390.70,159.90 L391.20,159.65 L391.70,159.40 L392.20,159.13 L392.70,158.79 L393.20,158.25 L393.70,157.18 L394.20,154.92 L394.70,150.39 L395.20,142.39 L395.70,130.30 L396.20,115.17 L396.70,100.30 L397.20,90.63 L397.70,90.14 L398.20,98.43 L398.70,111.20 L399.20,124.03 L399.70,134.37 L400.20,141.73 L400.70,146.85 L401.20,150.65 L401.70,153.68 L402.20,156.13 L402.70,158.02 L403.20,159.39 L403.70,160.33 L404.20,160.96 L404.70,161.41 L405.20,161.76 L405.70,162.07 L406.20,162.36 L406.70,162.64 L407.20,162.92 L407.70,163.20 L408.20,163.47 L408.70,163.74 L409.20,164.01 L409.70,164.27 L410.20,164.52 L410.70,164.76 L411.20,164.97 L411.70,165.16 L412.20,165.31 L412.70,165.44 L413.20,165.55 L413.70,165.66 L414.20,165.75 L414.70,165.83 L415.20,165.87 L415.70,165.85 L416.20,165.70 L416.70,165.33 L417.20,164.64 L417.70,163.48 L418.20,161.74 L418.70,159.33 L419.20,156.30 L419.70,152.85 L420.20,149.31 L420.70,146.18 L421.20,143.95 L421.70,143.02 L422.20,143.59 L422.70,145.59 L423.20,148.67 L423.70,152.36 L424.20,156.16 L424.70,159.65 L425.20,162.58 L425.70,164.85 L426.20,166.51 L426.70,167.64 L427.20,168.40 L427.70,168.91 L428.20,169.25 L428.70,169.50 L429.20,169.70 L429.70,169.87 L430.20,170.03 L430.70,170.18 L431.20,170.34 L431.70,170.49 L432.20,170.64 L432.70,170.79 L433.20,170.94 L433.70,171.10 L434.20,171.25 L434.70,171.40 L435.20,171.55 L435.70,171.70 L436.20,171.85 L436.70,172.00 L437.20,172.16 L437.70,172.31 L438.20,172.46 L438.70,172.61 L439.20,172.76 L439.70,172.92 L440.20,173.09 L440.70,173.27 L441.20,173.46 L441.70,173.66 L442.20,173.87 L442.70,174.08 L443.20,174.29 L443.70,174.50 L444.20,174.71 L444.70,174.92 L445.20,175.12 L445.70,175.33 L446.20,175.53 L446.70,175.73 L447.20,175.93 L447.70,176.13 L448.20,176.31 L448.70,176.49 L449.20,176.64 L449.70,176.75 L450.20,176.79 L450.70,176.70 L451.20,176.39 L451.70,175.70 L452.20,174.39 L452.70,172.28 L453.20,169.43 L453.70,166.41 L454.20,164.39 L454.70,164.52 L455.20,166.64 L455.70,169.49 L456.20,172.04 L456.70,173.83 L457.20,174.93 L457.70,175.56 L458.20,175.98 L458.70,176.32 L459.20,176.65 L459.70,176.97 L460.20,177.28 L460.70,177.57 L461.20,177.82 L461.70,178.04 L462.20,178.19 L462.70,178.29 L463.20,178.34 L463.70,178.36 L464.20,178.36 L464.70,178.36 L465.20,178.35 L465.70,178.34 L466.20,178.33 L466.70,178.33 L467.20,178.32 L467.70,178.32 L468.20,178.34 L468.70,178.42 L469.20,178.59 L469.70,178.92 L470.20,179.43 L470.70,180.10 L471.20,180.90 L471.70,181.77 L472.20,182.64 L472.70,183.48 L473.20,184.21 L473.70,184.76 L474.20,185.08 L474.70,185.15 L475.20,185.04 L475.70,184.80 L476.20,184.50 L476.70,184.18 L477.20,183.85 L477.70,183.52 L478.20,183.21 L478.70,182.95 L479.20,182.79 L479.70,182.79 L480.20,183.00 L480.70,183.43 L481.20,184.03 L481.70,184.75 L482.20,185.52 L482.70,186.30 L483.20,187.09 L483.70,187.85 L484.20,188.55 L484.70,189.16 L485.20,189.64 L485.70,190.00 L486.20,190.26 L486.70,190.45 L487.20,190.61 L487.70,190.76 L488.20,190.90 L488.70,191.05 L489.20,191.19 L489.70,191.33 L490.20,191.47 L490.70,191.60 L491.20,191.71 L491.70,191.79 L492.20,191.82 L492.70,191.81 L493.20,191.77 L493.70,191.70 L494.20,191.62 L494.70,191.54 L495.20,191.46 L495.70,191.37 L496.20,191.29 L496.70,191.19 L497.20,191.07 L497.70,190.92 L498.20,190.73 L498.70,190.49 L499.20,190.22 L499.70,189.93 L500.20,189.64 L500.70,189.39 L501.20,189.23 L501.70,189.20 L502.20,189.34 L502.70,189.64 L503.20,190.05 L503.45,190.28" fill="none" stroke="#161616" stroke-width="1.45" stroke-linejoin="round" stroke-linecap="round"/>
<path d="M321.20,193.50 L321.70,193.21 L322.20,192.92 L322.70,192.63 L323.20,192.34 L323.70,192.05 L324.20,191.77 L324.70,191.48 L325.20,191.19 L325.70,190.90 L326.20,190.61 L326.70,190.32 L327.20,190.03 L327.70,189.75 L328.20,189.46 L328.70,189.18 L329.20,188.89 L329.70,188.61 L330.20,188.34 L330.70,188.06 L331.20,187.79 L331.70,187.51 L332.20,187.23 L332.70,186.96 L333.20,186.68 L333.70,186.41 L334.20,186.13 L334.70,185.86 L335.20,185.58 L335.70,185.31 L336.20,185.03 L336.70,184.76 L337.20,184.49 L337.70,184.21 L338.20,183.95 L338.70,183.69 L339.20,183.43 L339.70,183.19 L340.20,182.96 L340.70,182.73 L341.20,182.50 L341.70,182.28 L342.20,182.05 L342.70,181.83 L343.20,181.60 L343.70,181.37 L344.20,181.14 L344.70,180.90 L345.20,180.65 L345.70,180.40 L346.20,180.13 L346.70,179.84 L347.20,179.53 L347.70,179.20 L348.20,178.86 L348.70,178.51 L349.20,178.17 L349.70,177.84 L350.20,177.54 L350.70,177.27 L351.20,177.05 L351.70,176.87 L352.20,176.75 L352.70,176.68 L353.20,176.66 L353.70,176.68 L354.20,176.73 L354.70,176.78 L355.20,176.84 L355.70,176.88 L356.20,176.90 L356.70,176.90 L357.20,176.87 L357.70,176.82 L358.20,176.75 L358.70,176.67 L359.20,176.57 L359.70,176.47 L360.20,176.36 L360.70,176.25 L361.20,176.13 L361.70,176.01 L362.20,175.90 L362.70,175.78 L363.20,175.65 L363.70,175.51 L364.20,175.37 L364.70,175.21 L365.20,175.05 L365.70,174.87 L366.20,174.70 L366.70,174.52 L367.20,174.35 L367.70,174.17 L368.20,173.99 L368.70,173.82 L369.20,173.66 L369.70,173.52 L370.20,173.40 L370.70,173.31 L371.20,173.23 L371.70,173.16 L372.20,173.10 L372.70,173.04 L373.20,172.97 L373.70,172.90 L374.20,172.82 L374.70,172.70 L375.20,172.51 L375.70,172.16 L376.20,171.55 L376.70,170.66 L377.20,169.66 L377.70,168.95 L378.20,168.98 L378.70,169.68 L379.20,170.58 L379.70,171.32 L380.20,171.79 L380.70,172.03 L381.20,172.15 L381.70,172.22 L382.20,172.29 L382.70,172.35 L383.20,172.41 L383.70,172.46 L384.20,172.52 L384.70,172.56 L385.20,172.60 L385.70,172.61 L386.20,172.60 L386.70,172.53 L387.20,172.43 L387.70,172.30 L388.20,172.15 L388.70,171.99 L389.20,171.81 L389.70,171.64 L390.20,171.46 L390.70,171.28 L391.20,171.10 L391.70,170.92 L392.20,170.74 L392.70,170.52 L393.20,170.16 L393.70,169.43 L394.20,167.85 L394.70,164.66 L395.20,158.98 L395.70,150.38 L396.20,139.61 L396.70,129.02 L397.20,122.14 L397.70,121.82 L398.20,127.76 L398.70,136.91 L399.20,146.09 L399.70,153.49 L400.20,158.77 L400.70,162.44 L401.20,165.17 L401.70,167.35 L402.20,169.12 L402.70,170.49 L403.20,171.48 L403.70,172.17 L404.20,172.64 L404.70,172.98 L405.20,173.26 L405.70,173.51 L406.20,173.75 L406.70,173.98 L407.20,174.22 L407.70,174.45 L408.20,174.68 L408.70,174.90 L409.20,175.13 L409.70,175.35 L410.20,175.56 L410.70,175.75 L411.20,175.92 L411.70,176.05 L412.20,176.15 L412.70,176.23 L413.20,176.29 L413.70,176.34 L414.20,176.38 L414.70,176.42 L415.20,176.44 L415.70,176.43 L416.20,176.36 L416.70,176.19 L417.20,175.87 L417.70,175.33 L418.20,174.50 L418.70,173.34 L419.20,171.88 L419.70,170.21 L420.20,168.49 L420.70,166.99 L421.20,165.94 L421.70,165.56 L422.20,165.94 L422.70,167.05 L423.20,168.70 L423.70,170.66 L424.20,172.67 L424.70,174.52 L425.20,176.09 L425.70,177.31 L426.20,178.22 L426.70,178.87 L427.20,179.33 L427.70,179.66 L428.20,179.92 L428.70,180.13 L429.20,180.33 L429.70,180.51 L430.20,180.69 L430.70,180.86 L431.20,181.04 L431.70,181.21 L432.20,181.39 L432.70,181.56 L433.20,181.73 L433.70,181.91 L434.20,182.08 L434.70,182.26 L435.20,182.43 L435.70,182.60 L436.20,182.78 L436.70,182.95 L437.20,183.13 L437.70,183.30 L438.20,183.47 L438.70,183.65 L439.20,183.82 L439.70,184.00 L440.20,184.19 L440.70,184.39 L441.20,184.59 L441.70,184.80 L442.20,185.02 L442.70,185.23 L443.20,185.45 L443.70,185.67 L444.20,185.89 L444.70,186.10 L445.20,186.32 L445.70,186.53 L446.20,186.75 L446.70,186.96 L447.20,187.17 L447.70,187.38 L448.20,187.58 L448.70,187.77 L449.20,187.94 L449.70,188.08 L450.20,188.16 L450.70,188.11 L451.20,187.86 L451.70,187.26 L452.20,186.24 L452.70,184.87 L453.20,183.51 L453.70,182.81 L454.20,183.29 L454.70,184.68 L455.20,186.32 L455.70,187.73 L456.20,188.72 L456.70,189.34 L457.20,189.72 L457.70,189.97 L458.20,190.18 L458.70,190.37 L459.20,190.55 L459.70,190.72 L460.20,190.89 L460.70,191.06 L461.20,191.22 L461.70,191.38 L462.20,191.54 L462.70,191.70 L463.20,191.86 L463.70,192.02 L464.20,192.18 L464.70,192.33 L465.20,192.49 L465.70,192.65 L466.20,192.80 L466.70,192.96 L467.20,193.11 L467.70,193.27 L468.20,193.44 L468.70,193.62 L469.20,193.85 L469.70,194.14 L470.20,194.52 L470.70,194.99 L471.20,195.54 L471.70,196.12 L472.20,196.72 L472.70,197.29 L473.20,197.81 L473.70,198.21 L474.20,198.48 L474.70,198.60 L475.20,198.60 L475.70,198.54 L476.20,198.43 L476.70,198.31 L477.20,198.19 L477.70,198.07 L478.20,197.96 L478.70,197.88 L479.20,197.87 L479.70,197.95 L480.20,198.18 L480.70,198.54 L481.20,199.01 L481.70,199.56 L482.20,200.14 L482.70,200.73 L483.20,201.32 L483.70,201.89 L484.20,202.42 L484.70,202.87 L485.20,203.23 L485.70,203.50 L486.20,203.70 L486.70,203.84 L487.20,203.96 L487.70,204.07 L488.20,204.18 L488.70,204.29 L489.20,204.39 L489.70,204.50 L490.20,204.61 L490.70,204.70 L491.20,204.79 L491.70,204.86 L492.20,204.90 L492.70,204.91 L493.20,204.91 L493.70,204.88 L494.20,204.86 L494.70,204.83 L495.20,204.80 L495.70,204.76 L496.20,204.73 L496.70,204.70 L497.20,204.67 L497.70,204.64 L498.20,204.61 L498.70,204.57 L499.20,204.53 L499.70,204.47 L500.20,204.42 L500.70,204.38 L501.20,204.41 L501.70,204.57 L502.20,204.89 L502.70,205.37 L503.20,205.95 L503.45,206.27" fill="none" stroke="#161616" stroke-width="1.45" stroke-linejoin="round" stroke-linecap="round"/>
<path d="M321.20,205.50 L321.70,205.24 L322.20,204.99 L322.70,204.73 L323.20,204.47 L323.70,204.22 L324.20,203.96 L324.70,203.70 L325.20,203.45 L325.70,203.19 L326.20,202.93 L326.70,202.68 L327.20,202.42 L327.70,202.16 L328.20,201.90 L328.70,201.64 L329.20,201.37 L329.70,201.11 L330.20,200.83 L330.70,200.56 L331.20,200.29 L331.70,200.01 L332.20,199.74 L332.70,199.46 L333.20,199.19 L333.70,198.91 L334.20,198.64 L334.70,198.36 L335.20,198.09 L335.70,197.81 L336.20,197.54 L336.70,197.26 L337.20,196.99 L337.70,196.71 L338.20,196.44 L338.70,196.16 L339.20,195.89 L339.70,195.61 L340.20,195.34 L340.70,195.06 L341.20,194.79 L341.70,194.51 L342.20,194.24 L342.70,193.96 L343.20,193.69 L343.70,193.41 L344.20,193.14 L344.70,192.86 L345.20,192.59 L345.70,192.31 L346.20,192.04 L346.70,191.77 L347.20,191.50 L347.70,191.24 L348.20,190.99 L348.70,190.76 L349.20,190.55 L349.70,190.36 L350.20,190.20 L350.70,190.05 L351.20,189.90 L351.70,189.76 L352.20,189.62 L352.70,189.49 L353.20,189.35 L353.70,189.21 L354.20,189.08 L354.70,188.94 L355.20,188.81 L355.70,188.67 L356.20,188.53 L356.70,188.40 L357.20,188.26 L357.70,188.12 L358.20,187.99 L358.70,187.85 L359.20,187.71 L359.70,187.56 L360.20,187.42 L360.70,187.27 L361.20,187.12 L361.70,186.97 L362.20,186.81 L362.70,186.66 L363.20,186.50 L363.70,186.35 L364.20,186.19 L364.70,186.04 L365.20,185.88 L365.70,185.73 L366.20,185.57 L366.70,185.42 L367.20,185.26 L367.70,185.11 L368.20,184.96 L368.70,184.81 L369.20,184.68 L369.70,184.56 L370.20,184.46 L370.70,184.38 L371.20,184.31 L371.70,184.26 L372.20,184.21 L372.70,184.17 L373.20,184.12 L373.70,184.08 L374.20,184.04 L374.70,183.98 L375.20,183.88 L375.70,183.71 L376.20,183.42 L376.70,183.00 L377.20,182.56 L377.70,182.27 L378.20,182.26 L378.70,182.51 L379.20,182.87 L379.70,183.19 L380.20,183.37 L380.70,183.44 L381.20,183.44 L381.70,183.41 L382.20,183.38 L382.70,183.34 L383.20,183.30 L383.70,183.26 L384.20,183.22 L384.70,183.18 L385.20,183.14 L385.70,183.10 L386.20,183.06 L386.70,183.02 L387.20,182.98 L387.70,182.93 L388.20,182.89 L388.70,182.84 L389.20,182.80 L389.70,182.75 L390.20,182.70 L390.70,182.65 L391.20,182.61 L391.70,182.57 L392.20,182.53 L392.70,182.49 L393.20,182.43 L393.70,182.30 L394.20,181.95 L394.70,181.00 L395.20,178.80 L395.70,174.59 L396.20,168.26 L396.70,161.20 L397.20,156.33 L397.70,156.39 L398.20,161.05 L398.70,167.36 L399.20,172.77 L399.70,176.36 L400.20,178.48 L400.70,179.90 L401.20,181.10 L401.70,182.21 L402.20,183.20 L402.70,184.02 L403.20,184.64 L403.70,185.08 L404.20,185.40 L404.70,185.64 L405.20,185.83 L405.70,186.01 L406.20,186.17 L406.70,186.34 L407.20,186.49 L407.70,186.65 L408.20,186.81 L408.70,186.97 L409.20,187.12 L409.70,187.28 L410.20,187.43 L410.70,187.59 L411.20,187.74 L411.70,187.89 L412.20,188.05 L412.70,188.20 L413.20,188.35 L413.70,188.50 L414.20,188.65 L414.70,188.79 L415.20,188.90 L415.70,188.99 L416.20,189.02 L416.70,188.96 L417.20,188.79 L417.70,188.46 L418.20,187.98 L418.70,187.34 L419.20,186.60 L419.70,185.84 L420.20,185.17 L420.70,184.70 L421.20,184.53 L421.70,184.69 L422.20,185.17 L422.70,185.90 L423.20,186.77 L423.70,187.68 L424.20,188.52 L424.70,189.25 L425.20,189.85 L425.70,190.33 L426.20,190.72 L426.70,191.03 L427.20,191.29 L427.70,191.52 L428.20,191.74 L428.70,191.94 L429.20,192.14 L429.70,192.34 L430.20,192.54 L430.70,192.74 L431.20,192.93 L431.70,193.13 L432.20,193.33 L432.70,193.53 L433.20,193.72 L433.70,193.92 L434.20,194.12 L434.70,194.31 L435.20,194.51 L435.70,194.71 L436.20,194.90 L436.70,195.10 L437.20,195.30 L437.70,195.49 L438.20,195.69 L438.70,195.89 L439.20,196.09 L439.70,196.29 L440.20,196.50 L440.70,196.72 L441.20,196.94 L441.70,197.16 L442.20,197.39 L442.70,197.62 L443.20,197.85 L443.70,198.08 L444.20,198.31 L444.70,198.54 L445.20,198.77 L445.70,199.01 L446.20,199.24 L446.70,199.47 L447.20,199.70 L447.70,199.93 L448.20,200.16 L448.70,200.38 L449.20,200.59 L449.70,200.79 L450.20,200.94 L450.70,201.04 L451.20,201.01 L451.70,200.82 L452.20,200.46 L452.70,200.03 L453.20,199.74 L453.70,199.76 L454.20,200.17 L454.70,200.83 L455.20,201.54 L455.70,202.14 L456.20,202.58 L456.70,202.89 L457.20,203.13 L457.70,203.35 L458.20,203.57 L458.70,203.79 L459.20,204.02 L459.70,204.25 L460.20,204.48 L460.70,204.71 L461.20,204.94 L461.70,205.17 L462.20,205.40 L462.70,205.63 L463.20,205.86 L463.70,206.09 L464.20,206.32 L464.70,206.55 L465.20,206.78 L465.70,207.01 L466.20,207.24 L466.70,207.48 L467.20,207.71 L467.70,207.94 L468.20,208.18 L468.70,208.42 L469.20,208.68 L469.70,208.96 L470.20,209.26 L470.70,209.58 L471.20,209.93 L471.70,210.28 L472.20,210.64 L472.70,210.99 L473.20,211.31 L473.70,211.61 L474.20,211.87 L474.70,212.10 L475.20,212.29 L475.70,212.45 L476.20,212.60 L476.70,212.75 L477.20,212.89 L477.70,213.03 L478.20,213.17 L478.70,213.30 L479.20,213.44 L479.70,213.58 L480.20,213.72 L480.70,213.86 L481.20,214.00 L481.70,214.14 L482.20,214.29 L482.70,214.44 L483.20,214.59 L483.70,214.75 L484.20,214.92 L484.70,215.08 L485.20,215.25 L485.70,215.43 L486.20,215.60 L486.70,215.77 L487.20,215.95 L487.70,216.13 L488.20,216.31 L488.70,216.49 L489.20,216.67 L489.70,216.85 L490.20,217.04 L490.70,217.22 L491.20,217.40 L491.70,217.58 L492.20,217.76 L492.70,217.94 L493.20,218.10 L493.70,218.26 L494.20,218.40 L494.70,218.51 L495.20,218.61 L495.70,218.68 L496.20,218.74 L496.70,218.79 L497.20,218.84 L497.70,218.89 L498.20,218.93 L498.70,218.98 L499.20,219.02 L499.70,219.07 L500.20,219.13 L500.70,219.21 L501.20,219.32 L501.70,219.49 L502.20,219.72 L502.70,220.03 L503.20,220.40 L503.70,220.81" fill="none" stroke="#161616" stroke-width="1.45" stroke-linejoin="round" stroke-linecap="round"/>
<path d="M321.20,217.00 L321.70,216.71 L322.20,216.42 L322.70,216.13 L323.20,215.85 L323.70,215.56 L324.20,215.27 L324.70,214.98 L325.20,214.69 L325.70,214.40 L326.20,214.12 L326.70,213.83 L327.20,213.54 L327.70,213.25 L328.20,212.97 L328.70,212.68 L329.20,212.40 L329.70,212.12 L330.20,211.84 L330.70,211.57 L331.20,211.29 L331.70,211.01 L332.20,210.74 L332.70,210.46 L333.20,210.19 L333.70,209.91 L334.20,209.64 L334.70,209.36 L335.20,209.09 L335.70,208.81 L336.20,208.54 L336.70,208.27 L337.20,208.00 L337.70,207.74 L338.20,207.48 L338.70,207.23 L339.20,206.99 L339.70,206.77 L340.20,206.55 L340.70,206.33 L341.20,206.13 L341.70,205.92 L342.20,205.72 L342.70,205.52 L343.20,205.32 L343.70,205.12 L344.20,204.92 L344.70,204.72 L345.20,204.52 L345.70,204.32 L346.20,204.12 L346.70,203.92 L347.20,203.73 L347.70,203.53 L348.20,203.35 L348.70,203.16 L349.20,202.99 L349.70,202.82 L350.20,202.66 L350.70,202.50 L351.20,202.34 L351.70,202.19 L352.20,202.04 L352.70,201.89 L353.20,201.74 L353.70,201.59 L354.20,201.44 L354.70,201.29 L355.20,201.14 L355.70,200.99 L356.20,200.84 L356.70,200.69 L357.20,200.54 L357.70,200.39 L358.20,200.23 L358.70,200.08 L359.20,199.93 L359.70,199.78 L360.20,199.62 L360.70,199.47 L361.20,199.32 L361.70,199.16 L362.20,199.01 L362.70,198.85 L363.20,198.70 L363.70,198.54 L364.20,198.39 L364.70,198.23 L365.20,198.08 L365.70,197.92 L366.20,197.77 L366.70,197.62 L367.20,197.46 L367.70,197.31 L368.20,197.16 L368.70,197.02 L369.20,196.89 L369.70,196.76 L370.20,196.64 L370.70,196.54 L371.20,196.45 L371.70,196.36 L372.20,196.28 L372.70,196.22 L373.20,196.16 L373.70,196.11 L374.20,196.07 L374.70,196.02 L375.20,195.95 L375.70,195.81 L376.20,195.56 L376.70,195.18 L377.20,194.78 L377.70,194.53 L378.20,194.57 L378.70,194.86 L379.20,195.27 L379.70,195.63 L380.20,195.85 L380.70,195.96 L381.20,196.01 L381.70,196.02 L382.20,196.03 L382.70,196.03 L383.20,196.03 L383.70,196.03 L384.20,196.03 L384.70,196.03 L385.20,196.03 L385.70,196.03 L386.20,196.03 L386.70,196.03 L387.20,196.03 L387.70,196.03 L388.20,196.03 L388.70,196.03 L389.20,196.02 L389.70,196.02 L390.20,196.02 L390.70,196.01 L391.20,196.01 L391.70,196.01 L392.20,196.01 L392.70,196.00 L393.20,195.98 L393.70,195.91 L394.20,195.70 L394.70,195.10 L395.20,193.68 L395.70,190.94 L396.20,186.81 L396.70,182.21 L397.20,179.02 L397.70,179.06 L398.20,182.09 L398.70,186.20 L399.20,189.72 L399.70,192.05 L400.20,193.42 L400.70,194.32 L401.20,195.09 L401.70,195.80 L402.20,196.44 L402.70,196.97 L403.20,197.37 L403.70,197.67 L404.20,197.89 L404.70,198.06 L405.20,198.20 L405.70,198.33 L406.20,198.46 L406.70,198.58 L407.20,198.70 L407.70,198.82 L408.20,198.94 L408.70,199.06 L409.20,199.18 L409.70,199.30 L410.20,199.42 L410.70,199.53 L411.20,199.65 L411.70,199.77 L412.20,199.89 L412.70,200.01 L413.20,200.12 L413.70,200.24 L414.20,200.35 L414.70,200.46 L415.20,200.57 L415.70,200.66 L416.20,200.73 L416.70,200.78 L417.20,200.78 L417.70,200.73 L418.20,200.62 L418.70,200.46 L419.20,200.26 L419.70,200.06 L420.20,199.88 L420.70,199.78 L421.20,199.79 L421.70,199.92 L422.20,200.17 L422.70,200.51 L423.20,200.90 L423.70,201.30 L424.20,201.69 L424.70,202.03 L425.20,202.33 L425.70,202.59 L426.20,202.81 L426.70,203.00 L427.20,203.19 L427.70,203.36 L428.20,203.52 L428.70,203.69 L429.20,203.85 L429.70,204.01 L430.20,204.17 L430.70,204.33 L431.20,204.50 L431.70,204.66 L432.20,204.82 L432.70,204.98 L433.20,205.14 L433.70,205.30 L434.20,205.46 L434.70,205.63 L435.20,205.79 L435.70,205.95 L436.20,206.11 L436.70,206.27 L437.20,206.43 L437.70,206.59 L438.20,206.76 L438.70,206.92 L439.20,207.08 L439.70,207.25 L440.20,207.41 L440.70,207.58 L441.20,207.75 L441.70,207.92 L442.20,208.10 L442.70,208.27 L443.20,208.45 L443.70,208.62 L444.20,208.80 L444.70,208.97 L445.20,209.15 L445.70,209.32 L446.20,209.50 L446.70,209.68 L447.20,209.85 L447.70,210.03 L448.20,210.20 L448.70,210.38 L449.20,210.55 L449.70,210.73 L450.20,210.91 L450.70,211.08 L451.20,211.26 L451.70,211.44 L452.20,211.62 L452.70,211.81 L453.20,212.01 L453.70,212.21 L454.20,212.42 L454.70,212.64 L455.20,212.87 L455.70,213.10 L456.20,213.33 L456.70,213.56 L457.20,213.80 L457.70,214.03 L458.20,214.27 L458.70,214.51 L459.20,214.74 L459.70,214.98 L460.20,215.21 L460.70,215.45 L461.20,215.69 L461.70,215.92 L462.20,216.16 L462.70,216.39 L463.20,216.63 L463.70,216.87 L464.20,217.10 L464.70,217.34 L465.20,217.57 L465.70,217.81 L466.20,218.05 L466.70,218.28 L467.20,218.52 L467.70,218.75 L468.20,218.99 L468.70,219.22 L469.20,219.46 L469.70,219.70 L470.20,219.93 L470.70,220.16 L471.20,220.40 L471.70,220.63 L472.20,220.86 L472.70,221.09 L473.20,221.32 L473.70,221.54 L474.20,221.77 L474.70,222.00 L475.20,222.23 L475.70,222.45 L476.20,222.68 L476.70,222.91 L477.20,223.14 L477.70,223.36 L478.20,223.59 L478.70,223.82 L479.20,224.04 L479.70,224.27 L480.20,224.50 L480.70,224.73 L481.20,224.95 L481.70,225.18 L482.20,225.41 L482.70,225.64 L483.20,225.86 L483.70,226.09 L484.20,226.32 L484.70,226.54 L485.20,226.77 L485.70,226.99 L486.20,227.20 L486.70,227.42 L487.20,227.63 L487.70,227.83 L488.20,228.04 L488.70,228.23 L489.20,228.43 L489.70,228.63 L490.20,228.82 L490.70,229.02 L491.20,229.21 L491.70,229.41 L492.20,229.60 L492.70,229.78 L493.20,229.96 L493.70,230.13 L494.20,230.29 L494.70,230.44 L495.20,230.57 L495.70,230.69 L496.20,230.81 L496.70,230.91 L497.20,231.01 L497.70,231.11 L498.20,231.21 L498.70,231.31 L499.20,231.42 L499.70,231.54 L500.20,231.67 L500.70,231.84 L501.20,232.06 L501.70,232.34 L502.20,232.69 L502.70,233.10 L503.20,233.57 L503.45,233.82" fill="none" stroke="#161616" stroke-width="1.45" stroke-linejoin="round" stroke-linecap="round"/>
<path d="M321.20,228.50 L321.70,228.24 L322.20,227.97 L322.70,227.71 L323.20,227.45 L323.70,227.18 L324.20,226.92 L324.70,226.65 L325.20,226.39 L325.70,226.12 L326.20,225.85 L326.70,225.59 L327.20,225.32 L327.70,225.05 L328.20,224.78 L328.70,224.52 L329.20,224.25 L329.70,223.98 L330.20,223.71 L330.70,223.45 L331.20,223.18 L331.70,222.91 L332.20,222.64 L332.70,222.37 L333.20,222.11 L333.70,221.84 L334.20,221.57 L334.70,221.30 L335.20,221.04 L335.70,220.77 L336.20,220.50 L336.70,220.24 L337.20,219.98 L337.70,219.72 L338.20,219.46 L338.70,219.21 L339.20,218.96 L339.70,218.72 L340.20,218.48 L340.70,218.25 L341.20,218.02 L341.70,217.79 L342.20,217.56 L342.70,217.34 L343.20,217.11 L343.70,216.88 L344.20,216.66 L344.70,216.43 L345.20,216.21 L345.70,215.99 L346.20,215.77 L346.70,215.55 L347.20,215.33 L347.70,215.12 L348.20,214.92 L348.70,214.72 L349.20,214.53 L349.70,214.35 L350.20,214.18 L350.70,214.01 L351.20,213.85 L351.70,213.70 L352.20,213.54 L352.70,213.39 L353.20,213.24 L353.70,213.09 L354.20,212.94 L354.70,212.79 L355.20,212.64 L355.70,212.49 L356.20,212.34 L356.70,212.19 L357.20,212.04 L357.70,211.90 L358.20,211.75 L358.70,211.61 L359.20,211.47 L359.70,211.33 L360.20,211.19 L360.70,211.06 L361.20,210.92 L361.70,210.79 L362.20,210.66 L362.70,210.52 L363.20,210.39 L363.70,210.26 L364.20,210.13 L364.70,210.00 L365.20,209.86 L365.70,209.73 L366.20,209.60 L366.70,209.47 L367.20,209.34 L367.70,209.21 L368.20,209.08 L368.70,208.96 L369.20,208.83 L369.70,208.71 L370.20,208.60 L370.70,208.49 L371.20,208.38 L371.70,208.28 L372.20,208.19 L372.70,208.10 L373.20,208.02 L373.70,207.95 L374.20,207.89 L374.70,207.84 L375.20,207.80 L375.70,207.77 L376.20,207.74 L376.70,207.71 L377.20,207.69 L377.70,207.67 L378.20,207.65 L378.70,207.64 L379.20,207.62 L379.70,207.60 L380.20,207.58 L380.70,207.57 L381.20,207.55 L381.70,207.53 L382.20,207.51 L382.70,207.50 L383.20,207.48 L383.70,207.46 L384.20,207.44 L384.70,207.43 L385.20,207.41 L385.70,207.39 L386.20,207.37 L386.70,207.35 L387.20,207.33 L387.70,207.32 L388.20,207.30 L388.70,207.28 L389.20,207.27 L389.70,207.25 L390.20,207.25 L390.70,207.25 L391.20,207.25 L391.70,207.27 L392.20,207.29 L392.70,207.32 L393.20,207.35 L393.70,207.36 L394.20,207.29 L394.70,207.03 L395.20,206.34 L395.70,204.95 L396.20,202.82 L396.70,200.44 L397.20,198.81 L397.70,198.87 L398.20,200.51 L398.70,202.71 L399.20,204.60 L399.70,205.86 L400.20,206.62 L400.70,207.14 L401.20,207.59 L401.70,208.01 L402.20,208.40 L402.70,208.73 L403.20,208.99 L403.70,209.20 L404.20,209.37 L404.70,209.52 L405.20,209.65 L405.70,209.77 L406.20,209.89 L406.70,210.01 L407.20,210.13 L407.70,210.25 L408.20,210.36 L408.70,210.48 L409.20,210.60 L409.70,210.72 L410.20,210.83 L410.70,210.95 L411.20,211.07 L411.70,211.18 L412.20,211.30 L412.70,211.42 L413.20,211.53 L413.70,211.65 L414.20,211.77 L414.70,211.89 L415.20,212.00 L415.70,212.12 L416.20,212.23 L416.70,212.33 L417.20,212.42 L417.70,212.49 L418.20,212.53 L418.70,212.56 L419.20,212.56 L419.70,212.57 L420.20,212.60 L420.70,212.66 L421.20,212.78 L421.70,212.96 L422.20,213.19 L422.70,213.47 L423.20,213.78 L423.70,214.09 L424.20,214.38 L424.70,214.65 L425.20,214.90 L425.70,215.11 L426.20,215.31 L426.70,215.48 L427.20,215.65 L427.70,215.81 L428.20,215.96 L428.70,216.12 L429.20,216.27 L429.70,216.42 L430.20,216.57 L430.70,216.73 L431.20,216.88 L431.70,217.03 L432.20,217.18 L432.70,217.33 L433.20,217.48 L433.70,217.64 L434.20,217.79 L434.70,217.94 L435.20,218.09 L435.70,218.24 L436.20,218.40 L436.70,218.55 L437.20,218.70 L437.70,218.86 L438.20,219.02 L438.70,219.18 L439.20,219.35 L439.70,219.52 L440.20,219.71 L440.70,219.90 L441.20,220.10 L441.70,220.31 L442.20,220.53 L442.70,220.76 L443.20,220.99 L443.70,221.22 L444.20,221.46 L444.70,221.69 L445.20,221.93 L445.70,222.16 L446.20,222.40 L446.70,222.64 L447.20,222.88 L447.70,223.11 L448.20,223.35 L448.70,223.59 L449.20,223.82 L449.70,224.06 L450.20,224.30 L450.70,224.53 L451.20,224.77 L451.70,225.01 L452.20,225.25 L452.70,225.48 L453.20,225.72 L453.70,225.96 L454.20,226.20 L454.70,226.44 L455.20,226.69 L455.70,226.93 L456.20,227.18 L456.70,227.44 L457.20,227.69 L457.70,227.95 L458.20,228.21 L458.70,228.46 L459.20,228.73 L459.70,228.99 L460.20,229.25 L460.70,229.51 L461.20,229.77 L461.70,230.03 L462.20,230.29 L462.70,230.55 L463.20,230.81 L463.70,231.08 L464.20,231.34 L464.70,231.60 L465.20,231.86 L465.70,232.12 L466.20,232.38 L466.70,232.64 L467.20,232.90 L467.70,233.16 L468.20,233.42 L468.70,233.68 L469.20,233.94 L469.70,234.19 L470.20,234.43 L470.70,234.67 L471.20,234.91 L471.70,235.13 L472.20,235.35 L472.70,235.56 L473.20,235.77 L473.70,235.97 L474.20,236.17 L474.70,236.36 L475.20,236.55 L475.70,236.75 L476.20,236.94 L476.70,237.13 L477.20,237.32 L477.70,237.51 L478.20,237.70 L478.70,237.90 L479.20,238.09 L479.70,238.28 L480.20,238.47 L480.70,238.66 L481.20,238.85 L481.70,239.05 L482.20,239.24 L482.70,239.43 L483.20,239.62 L483.70,239.81 L484.20,240.00 L484.70,240.18 L485.20,240.36 L485.70,240.54 L486.20,240.71 L486.70,240.88 L487.20,241.04 L487.70,241.19 L488.20,241.34 L488.70,241.48 L489.20,241.62 L489.70,241.75 L490.20,241.88 L490.70,242.01 L491.20,242.14 L491.70,242.27 L492.20,242.41 L492.70,242.54 L493.20,242.67 L493.70,242.80 L494.20,242.93 L494.70,243.06 L495.20,243.19 L495.70,243.32 L496.20,243.45 L496.70,243.58 L497.20,243.71 L497.70,243.85 L498.20,243.99 L498.70,244.14 L499.20,244.30 L499.70,244.48 L500.20,244.69 L500.70,244.92 L501.20,245.20 L501.70,245.51 L502.20,245.86 L502.70,246.25 L503.20,246.66" fill="none" stroke="#161616" stroke-width="1.45" stroke-linejoin="round" stroke-linecap="round"/>
<path d="M321.20,242.00 L321.70,241.71 L322.20,241.42 L322.70,241.13 L323.20,240.85 L323.70,240.56 L324.20,240.27 L324.70,239.98 L325.20,239.69 L325.70,239.41 L326.20,239.12 L326.70,238.84 L327.20,238.55 L327.70,238.27 L328.20,238.00 L328.70,237.72 L329.20,237.45 L329.70,237.19 L330.20,236.93 L330.70,236.67 L331.20,236.41 L331.70,236.16 L332.20,235.90 L332.70,235.65 L333.20,235.40 L333.70,235.15 L334.20,234.90 L334.70,234.65 L335.20,234.40 L335.70,234.16 L336.20,233.91 L336.70,233.67 L337.20,233.43 L337.70,233.20 L338.20,232.97 L338.70,232.75 L339.20,232.53 L339.70,232.33 L340.20,232.13 L340.70,231.94 L341.20,231.75 L341.70,231.57 L342.20,231.39 L342.70,231.21 L343.20,231.03 L343.70,230.86 L344.20,230.68 L344.70,230.51 L345.20,230.33 L345.70,230.16 L346.20,229.98 L346.70,229.81 L347.20,229.64 L347.70,229.47 L348.20,229.30 L348.70,229.14 L349.20,228.97 L349.70,228.81 L350.20,228.66 L350.70,228.50 L351.20,228.35 L351.70,228.19 L352.20,228.04 L352.70,227.89 L353.20,227.74 L353.70,227.59 L354.20,227.44 L354.70,227.29 L355.20,227.14 L355.70,226.99 L356.20,226.83 L356.70,226.68 L357.20,226.52 L357.70,226.36 L358.20,226.20 L358.70,226.03 L359.20,225.86 L359.70,225.68 L360.20,225.50 L360.70,225.31 L361.20,225.13 L361.70,224.94 L362.20,224.74 L362.70,224.55 L363.20,224.36 L363.70,224.16 L364.20,223.97 L364.70,223.77 L365.20,223.58 L365.70,223.38 L366.20,223.19 L366.70,223.00 L367.20,222.81 L367.70,222.63 L368.20,222.46 L368.70,222.30 L369.20,222.14 L369.70,222.01 L370.20,221.88 L370.70,221.77 L371.20,221.68 L371.70,221.59 L372.20,221.52 L372.70,221.45 L373.20,221.39 L373.70,221.33 L374.20,221.28 L374.70,221.23 L375.20,221.17 L375.70,221.12 L376.20,221.07 L376.70,221.02 L377.20,220.97 L377.70,220.93 L378.20,220.88 L378.70,220.84 L379.20,220.80 L379.70,220.77 L380.20,220.74 L380.70,220.72 L381.20,220.71 L381.70,220.70 L382.20,220.70 L382.70,220.71 L383.20,220.72 L383.70,220.73 L384.20,220.75 L384.70,220.77 L385.20,220.79 L385.70,220.81 L386.20,220.83 L386.70,220.86 L387.20,220.88 L387.70,220.90 L388.20,220.92 L388.70,220.94 L389.20,220.96 L389.70,220.99 L390.20,221.01 L390.70,221.03 L391.20,221.06 L391.70,221.08 L392.20,221.11 L392.70,221.14 L393.20,221.17 L393.70,221.20 L394.20,221.20 L394.70,221.11 L395.20,220.81 L395.70,220.18 L396.20,219.20 L396.70,218.12 L397.20,217.45 L397.70,217.65 L398.20,218.65 L398.70,219.95 L399.20,221.07 L399.70,221.83 L400.20,222.27 L400.70,222.54 L401.20,222.71 L401.70,222.87 L402.20,223.01 L402.70,223.15 L403.20,223.29 L403.70,223.42 L404.20,223.56 L404.70,223.70 L405.20,223.83 L405.70,223.97 L406.20,224.11 L406.70,224.24 L407.20,224.38 L407.70,224.51 L408.20,224.65 L408.70,224.78 L409.20,224.91 L409.70,225.05 L410.20,225.18 L410.70,225.32 L411.20,225.45 L411.70,225.58 L412.20,225.71 L412.70,225.84 L413.20,225.97 L413.70,226.10 L414.20,226.23 L414.70,226.36 L415.20,226.48 L415.70,226.61 L416.20,226.73 L416.70,226.86 L417.20,226.98 L417.70,227.10 L418.20,227.23 L418.70,227.35 L419.20,227.47 L419.70,227.60 L420.20,227.72 L420.70,227.84 L421.20,227.97 L421.70,228.09 L422.20,228.21 L422.70,228.34 L423.20,228.47 L423.70,228.59 L424.20,228.73 L424.70,228.86 L425.20,228.99 L425.70,229.13 L426.20,229.27 L426.70,229.41 L427.20,229.56 L427.70,229.70 L428.20,229.85 L428.70,230.00 L429.20,230.15 L429.70,230.29 L430.20,230.44 L430.70,230.59 L431.20,230.74 L431.70,230.89 L432.20,231.04 L432.70,231.18 L433.20,231.33 L433.70,231.48 L434.20,231.63 L434.70,231.78 L435.20,231.93 L435.70,232.08 L436.20,232.22 L436.70,232.37 L437.20,232.53 L437.70,232.68 L438.20,232.83 L438.70,232.99 L439.20,233.16 L439.70,233.33 L440.20,233.50 L440.70,233.69 L441.20,233.88 L441.70,234.08 L442.20,234.28 L442.70,234.49 L443.20,234.70 L443.70,234.91 L444.20,235.13 L444.70,235.35 L445.20,235.57 L445.70,235.79 L446.20,236.01 L446.70,236.23 L447.20,236.45 L447.70,236.67 L448.20,236.89 L448.70,237.11 L449.20,237.33 L449.70,237.55 L450.20,237.77 L450.70,237.99 L451.20,238.21 L451.70,238.43 L452.20,238.65 L452.70,238.87 L453.20,239.09 L453.70,239.32 L454.20,239.54 L454.70,239.76 L455.20,239.99 L455.70,240.22 L456.20,240.45 L456.70,240.69 L457.20,240.93 L457.70,241.17 L458.20,241.41 L458.70,241.66 L459.20,241.90 L459.70,242.15 L460.20,242.40 L460.70,242.65 L461.20,242.90 L461.70,243.15 L462.20,243.40 L462.70,243.65 L463.20,243.90 L463.70,244.15 L464.20,244.40 L464.70,244.65 L465.20,244.90 L465.70,245.15 L466.20,245.40 L466.70,245.65 L467.20,245.90 L467.70,246.15 L468.20,246.40 L468.70,246.64 L469.20,246.89 L469.70,247.13 L470.20,247.37 L470.70,247.61 L471.20,247.84 L471.70,248.07 L472.20,248.29 L472.70,248.51 L473.20,248.73 L473.70,248.95 L474.20,249.16 L474.70,249.37 L475.20,249.58 L475.70,249.79 L476.20,249.99 L476.70,250.20 L477.20,250.41 L477.70,250.62 L478.20,250.83 L478.70,251.03 L479.20,251.24 L479.70,251.45 L480.20,251.66 L480.70,251.86 L481.20,252.07 L481.70,252.28 L482.20,252.49 L482.70,252.69 L483.20,252.90 L483.70,253.10 L484.20,253.30 L484.70,253.50 L485.20,253.70 L485.70,253.88 L486.20,254.07 L486.70,254.24 L487.20,254.40 L487.70,254.56 L488.20,254.71 L488.70,254.86 L489.20,255.00 L489.70,255.13 L490.20,255.27 L490.70,255.40 L491.20,255.53 L491.70,255.66 L492.20,255.79 L492.70,255.92 L493.20,256.04 L493.70,256.18 L494.20,256.31 L494.70,256.44 L495.20,256.57 L495.70,256.70 L496.20,256.84 L496.70,256.97 L497.20,257.11 L497.70,257.26 L498.20,257.41 L498.70,257.57 L499.20,257.75 L499.70,257.95 L500.20,258.19 L500.70,258.48 L501.20,258.81 L501.70,259.19 L502.20,259.63 L502.70,260.12 L503.20,260.66" fill="none" stroke="#161616" stroke-width="1.45" stroke-linejoin="round" stroke-linecap="round"/>
<path d="M321.20,254.20 L321.70,253.90 L322.20,253.60 L322.70,253.30 L323.20,253.00 L323.70,252.69 L324.20,252.39 L324.70,252.09 L325.20,251.79 L325.70,251.49 L326.20,251.19 L326.70,250.89 L327.20,250.60 L327.70,250.30 L328.20,250.01 L328.70,249.72 L329.20,249.43 L329.70,249.15 L330.20,248.86 L330.70,248.58 L331.20,248.30 L331.70,248.02 L332.20,247.74 L332.70,247.47 L333.20,247.19 L333.70,246.92 L334.20,246.64 L334.70,246.37 L335.20,246.09 L335.70,245.82 L336.20,245.55 L336.70,245.27 L337.20,245.00 L337.70,244.73 L338.20,244.47 L338.70,244.20 L339.20,243.94 L339.70,243.68 L340.20,243.42 L340.70,243.16 L341.20,242.91 L341.70,242.66 L342.20,242.40 L342.70,242.15 L343.20,241.90 L343.70,241.65 L344.20,241.40 L344.70,241.15 L345.20,240.91 L345.70,240.66 L346.20,240.42 L346.70,240.18 L347.20,239.95 L347.70,239.73 L348.20,239.51 L348.70,239.30 L349.20,239.10 L349.70,238.90 L350.20,238.72 L350.70,238.55 L351.20,238.38 L351.70,238.21 L352.20,238.05 L352.70,237.90 L353.20,237.74 L353.70,237.59 L354.20,237.44 L354.70,237.29 L355.20,237.14 L355.70,236.99 L356.20,236.84 L356.70,236.70 L357.20,236.55 L357.70,236.41 L358.20,236.26 L358.70,236.12 L359.20,235.98 L359.70,235.85 L360.20,235.71 L360.70,235.58 L361.20,235.45 L361.70,235.32 L362.20,235.19 L362.70,235.06 L363.20,234.93 L363.70,234.80 L364.20,234.68 L364.70,234.55 L365.20,234.42 L365.70,234.30 L366.20,234.17 L366.70,234.05 L367.20,233.93 L367.70,233.82 L368.20,233.71 L368.70,233.60 L369.20,233.50 L369.70,233.41 L370.20,233.33 L370.70,233.26 L371.20,233.20 L371.70,233.14 L372.20,233.09 L372.70,233.04 L373.20,233.00 L373.70,232.96 L374.20,232.92 L374.70,232.89 L375.20,232.85 L375.70,232.82 L376.20,232.78 L376.70,232.75 L377.20,232.72 L377.70,232.68 L378.20,232.65 L378.70,232.62 L379.20,232.58 L379.70,232.55 L380.20,232.52 L380.70,232.48 L381.20,232.45 L381.70,232.42 L382.20,232.39 L382.70,232.35 L383.20,232.33 L383.70,232.30 L384.20,232.28 L384.70,232.26 L385.20,232.24 L385.70,232.24 L386.20,232.24 L386.70,232.24 L387.20,232.26 L387.70,232.28 L388.20,232.31 L388.70,232.34 L389.20,232.37 L389.70,232.41 L390.20,232.45 L390.70,232.50 L391.20,232.54 L391.70,232.59 L392.20,232.63 L392.70,232.68 L393.20,232.72 L393.70,232.77 L394.20,232.82 L394.70,232.87 L395.20,232.92 L395.70,232.98 L396.20,233.04 L396.70,233.11 L397.20,233.18 L397.70,233.27 L398.20,233.36 L398.70,233.47 L399.20,233.58 L399.70,233.71 L400.20,233.84 L400.70,233.98 L401.20,234.13 L401.70,234.28 L402.20,234.43 L402.70,234.59 L403.20,234.75 L403.70,234.91 L404.20,235.07 L404.70,235.23 L405.20,235.39 L405.70,235.55 L406.20,235.71 L406.70,235.88 L407.20,236.04 L407.70,236.20 L408.20,236.36 L408.70,236.52 L409.20,236.68 L409.70,236.84 L410.20,237.00 L410.70,237.15 L411.20,237.31 L411.70,237.46 L412.20,237.61 L412.70,237.75 L413.20,237.89 L413.70,238.03 L414.20,238.16 L414.70,238.28 L415.20,238.40 L415.70,238.52 L416.20,238.63 L416.70,238.74 L417.20,238.85 L417.70,238.96 L418.20,239.07 L418.70,239.17 L419.20,239.28 L419.70,239.38 L420.20,239.49 L420.70,239.60 L421.20,239.70 L421.70,239.81 L422.20,239.92 L422.70,240.04 L423.20,240.15 L423.70,240.27 L424.20,240.40 L424.70,240.53 L425.20,240.66 L425.70,240.80 L426.20,240.95 L426.70,241.10 L427.20,241.26 L427.70,241.41 L428.20,241.58 L428.70,241.74 L429.20,241.90 L429.70,242.07 L430.20,242.23 L430.70,242.40 L431.20,242.57 L431.70,242.73 L432.20,242.90 L432.70,243.07 L433.20,243.23 L433.70,243.40 L434.20,243.57 L434.70,243.73 L435.20,243.90 L435.70,244.07 L436.20,244.24 L436.70,244.41 L437.20,244.58 L437.70,244.76 L438.20,244.94 L438.70,245.13 L439.20,245.32 L439.70,245.52 L440.20,245.73 L440.70,245.95 L441.20,246.17 L441.70,246.40 L442.20,246.63 L442.70,246.87 L443.20,247.11 L443.70,247.36 L444.20,247.60 L444.70,247.85 L445.20,248.10 L445.70,248.35 L446.20,248.60 L446.70,248.85 L447.20,249.10 L447.70,249.35 L448.20,249.60 L448.70,249.85 L449.20,250.10 L449.70,250.35 L450.20,250.60 L450.70,250.85 L451.20,251.09 L451.70,251.34 L452.20,251.59 L452.70,251.83 L453.20,252.07 L453.70,252.32 L454.20,252.56 L454.70,252.79 L455.20,253.03 L455.70,253.27 L456.20,253.50 L456.70,253.73 L457.20,253.97 L457.70,254.20 L458.20,254.43 L458.70,254.66 L459.20,254.89 L459.70,255.13 L460.20,255.36 L460.70,255.59 L461.20,255.82 L461.70,256.05 L462.20,256.29 L462.70,256.52 L463.20,256.75 L463.70,256.98 L464.20,257.21 L464.70,257.44 L465.20,257.68 L465.70,257.91 L466.20,258.14 L466.70,258.37 L467.20,258.60 L467.70,258.83 L468.20,259.07 L468.70,259.30 L469.20,259.53 L469.70,259.76 L470.20,259.99 L470.70,260.22 L471.20,260.44 L471.70,260.67 L472.20,260.89 L472.70,261.11 L473.20,261.32 L473.70,261.52 L474.20,261.72 L474.70,261.92 L475.20,262.11 L475.70,262.29 L476.20,262.47 L476.70,262.65 L477.20,262.82 L477.70,262.99 L478.20,263.16 L478.70,263.32 L479.20,263.49 L479.70,263.66 L480.20,263.82 L480.70,263.99 L481.20,264.16 L481.70,264.32 L482.20,264.49 L482.70,264.65 L483.20,264.82 L483.70,264.98 L484.20,265.15 L484.70,265.32 L485.20,265.48 L485.70,265.65 L486.20,265.81 L486.70,265.98 L487.20,266.15 L487.70,266.31 L488.20,266.48 L488.70,266.64 L489.20,266.81 L489.70,266.97 L490.20,267.14 L490.70,267.30 L491.20,267.47 L491.70,267.63 L492.20,267.80 L492.70,267.96 L493.20,268.12 L493.70,268.28 L494.20,268.43 L494.70,268.59 L495.20,268.74 L495.70,268.89 L496.20,269.04 L496.70,269.20 L497.20,269.35 L497.70,269.51 L498.20,269.68 L498.70,269.86 L499.20,270.06 L499.70,270.29 L500.20,270.55 L500.70,270.86 L501.20,271.21 L501.70,271.61 L502.20,272.06 L502.70,272.56 L503.20,273.10" fill="none" stroke="#161616" stroke-width="1.45" stroke-linejoin="round" stroke-linecap="round"/>
<path d="M321.20,266.50 L321.70,266.18 L322.20,265.86 L322.70,265.54 L323.20,265.22 L323.70,264.90 L324.20,264.58 L324.70,264.26 L325.20,263.94 L325.70,263.62 L326.20,263.31 L326.70,262.99 L327.20,262.68 L327.70,262.37 L328.20,262.07 L328.70,261.77 L329.20,261.47 L329.70,261.17 L330.20,260.88 L330.70,260.60 L331.20,260.31 L331.70,260.03 L332.20,259.75 L332.70,259.47 L333.20,259.19 L333.70,258.92 L334.20,258.64 L334.70,258.37 L335.20,258.09 L335.70,257.82 L336.20,257.54 L336.70,257.27 L337.20,256.99 L337.70,256.72 L338.20,256.44 L338.70,256.16 L339.20,255.89 L339.70,255.62 L340.20,255.34 L340.70,255.07 L341.20,254.79 L341.70,254.52 L342.20,254.24 L342.70,253.97 L343.20,253.69 L343.70,253.42 L344.20,253.15 L344.70,252.87 L345.20,252.60 L345.70,252.34 L346.20,252.08 L346.70,251.82 L347.20,251.57 L347.70,251.33 L348.20,251.09 L348.70,250.87 L349.20,250.66 L349.70,250.45 L350.20,250.26 L350.70,250.07 L351.20,249.90 L351.70,249.73 L352.20,249.57 L352.70,249.41 L353.20,249.25 L353.70,249.10 L354.20,248.95 L354.70,248.80 L355.20,248.65 L355.70,248.50 L356.20,248.36 L356.70,248.22 L357.20,248.08 L357.70,247.94 L358.20,247.81 L358.70,247.69 L359.20,247.57 L359.70,247.45 L360.20,247.34 L360.70,247.23 L361.20,247.13 L361.70,247.03 L362.20,246.93 L362.70,246.83 L363.20,246.74 L363.70,246.65 L364.20,246.56 L364.70,246.47 L365.20,246.37 L365.70,246.28 L366.20,246.20 L366.70,246.11 L367.20,246.02 L367.70,245.94 L368.20,245.85 L368.70,245.77 L369.20,245.70 L369.70,245.62 L370.20,245.55 L370.70,245.48 L371.20,245.42 L371.70,245.36 L372.20,245.30 L372.70,245.24 L373.20,245.19 L373.70,245.14 L374.20,245.08 L374.70,245.03 L375.20,244.98 L375.70,244.93 L376.20,244.89 L376.70,244.84 L377.20,244.80 L377.70,244.76 L378.20,244.72 L378.70,244.68 L379.20,244.65 L379.70,244.62 L380.20,244.60 L380.70,244.59 L381.20,244.58 L381.70,244.57 L382.20,244.57 L382.70,244.57 L383.20,244.57 L383.70,244.58 L384.20,244.60 L384.70,244.62 L385.20,244.64 L385.70,244.67 L386.20,244.70 L386.70,244.74 L387.20,244.78 L387.70,244.83 L388.20,244.88 L388.70,244.94 L389.20,245.00 L389.70,245.06 L390.20,245.12 L390.70,245.18 L391.20,245.25 L391.70,245.32 L392.20,245.38 L392.70,245.45 L393.20,245.52 L393.70,245.59 L394.20,245.65 L394.70,245.72 L395.20,245.79 L395.70,245.86 L396.20,245.92 L396.70,245.99 L397.20,246.06 L397.70,246.13 L398.20,246.20 L398.70,246.27 L399.20,246.34 L399.70,246.41 L400.20,246.48 L400.70,246.56 L401.20,246.64 L401.70,246.73 L402.20,246.81 L402.70,246.91 L403.20,247.01 L403.70,247.11 L404.20,247.22 L404.70,247.33 L405.20,247.44 L405.70,247.56 L406.20,247.68 L406.70,247.80 L407.20,247.92 L407.70,248.04 L408.20,248.16 L408.70,248.29 L409.20,248.41 L409.70,248.53 L410.20,248.66 L410.70,248.78 L411.20,248.90 L411.70,249.02 L412.20,249.15 L412.70,249.27 L413.20,249.39 L413.70,249.50 L414.20,249.62 L414.70,249.74 L415.20,249.86 L415.70,249.97 L416.20,250.09 L416.70,250.20 L417.20,250.32 L417.70,250.43 L418.20,250.55 L418.70,250.66 L419.20,250.78 L419.70,250.89 L420.20,251.01 L420.70,251.12 L421.20,251.24 L421.70,251.36 L422.20,251.48 L422.70,251.60 L423.20,251.72 L423.70,251.85 L424.20,251.98 L424.70,252.11 L425.20,252.25 L425.70,252.39 L426.20,252.54 L426.70,252.69 L427.20,252.84 L427.70,253.00 L428.20,253.16 L428.70,253.31 L429.20,253.48 L429.70,253.64 L430.20,253.80 L430.70,253.96 L431.20,254.13 L431.70,254.29 L432.20,254.45 L432.70,254.62 L433.20,254.78 L433.70,254.94 L434.20,255.11 L434.70,255.27 L435.20,255.43 L435.70,255.60 L436.20,255.77 L436.70,255.93 L437.20,256.10 L437.70,256.28 L438.20,256.45 L438.70,256.63 L439.20,256.82 L439.70,257.01 L440.20,257.20 L440.70,257.40 L441.20,257.61 L441.70,257.82 L442.20,258.03 L442.70,258.25 L443.20,258.47 L443.70,258.69 L444.20,258.92 L444.70,259.15 L445.20,259.37 L445.70,259.60 L446.20,259.83 L446.70,260.05 L447.20,260.28 L447.70,260.51 L448.20,260.74 L448.70,260.97 L449.20,261.19 L449.70,261.42 L450.20,261.65 L450.70,261.88 L451.20,262.11 L451.70,262.34 L452.20,262.56 L452.70,262.79 L453.20,263.02 L453.70,263.25 L454.20,263.48 L454.70,263.71 L455.20,263.94 L455.70,264.18 L456.20,264.41 L456.70,264.64 L457.20,264.87 L457.70,265.10 L458.20,265.33 L458.70,265.56 L459.20,265.80 L459.70,266.03 L460.20,266.26 L460.70,266.49 L461.20,266.72 L461.70,266.95 L462.20,267.19 L462.70,267.42 L463.20,267.65 L463.70,267.88 L464.20,268.11 L464.70,268.34 L465.20,268.58 L465.70,268.81 L466.20,269.04 L466.70,269.27 L467.20,269.50 L467.70,269.73 L468.20,269.97 L468.70,270.20 L469.20,270.43 L469.70,270.66 L470.20,270.89 L470.70,271.11 L471.20,271.34 L471.70,271.56 L472.20,271.78 L472.70,272.00 L473.20,272.21 L473.70,272.42 L474.20,272.62 L474.70,272.81 L475.20,273.01 L475.70,273.19 L476.20,273.37 L476.70,273.55 L477.20,273.73 L477.70,273.90 L478.20,274.07 L478.70,274.25 L479.20,274.41 L479.70,274.58 L480.20,274.75 L480.70,274.92 L481.20,275.09 L481.70,275.26 L482.20,275.43 L482.70,275.59 L483.20,275.76 L483.70,275.93 L484.20,276.10 L484.70,276.27 L485.20,276.44 L485.70,276.60 L486.20,276.77 L486.70,276.94 L487.20,277.11 L487.70,277.28 L488.20,277.45 L488.70,277.61 L489.20,277.78 L489.70,277.95 L490.20,278.12 L490.70,278.28 L491.20,278.45 L491.70,278.62 L492.20,278.78 L492.70,278.94 L493.20,279.10 L493.70,279.26 L494.20,279.41 L494.70,279.57 L495.20,279.72 L495.70,279.87 L496.20,280.02 L496.70,280.17 L497.20,280.32 L497.70,280.48 L498.20,280.65 L498.70,280.84 L499.20,281.05 L499.70,281.28 L500.20,281.55 L500.70,281.86 L501.20,282.22 L501.70,282.61 L502.20,283.06 L502.70,283.54 L503.20,284.07" fill="none" stroke="#161616" stroke-width="1.45" stroke-linejoin="round" stroke-linecap="round"/>
<rect x="185.5" y="14.5" width="63.3" height="19.7" fill="none" stroke="#5c5c5c" stroke-width="1.1"/>
<rect x="449.0" y="14.5" width="90.3" height="18.8" fill="none" stroke="#5c5c5c" stroke-width="1.1"/>
<rect x="54" y="9.2" width="73" height="18" fill="#fff"/>
<text x="54.32" y="23.3" font-size="15" fill="#0626ff" stroke="#0626ff" stroke-width="0.15" textLength="71.19" lengthAdjust="spacingAndGlyphs" >(200)/(110)</text>
<text x="117.71" y="71.7" font-size="15" fill="#0626ff" stroke="#0626ff" stroke-width="0.15" textLength="34.39" lengthAdjust="spacingAndGlyphs" >(203)</text>
<text x="156.93" y="100.2" font-size="15" fill="#0626ff" stroke="#0626ff" stroke-width="0.15" textLength="33.23" lengthAdjust="spacingAndGlyphs" >(210)</text>
<text x="360.12" y="30.9" font-size="15" fill="#0626ff" stroke="#0626ff" stroke-width="0.15" textLength="71.50" lengthAdjust="spacingAndGlyphs" >(200)/(110)</text>
<text x="405.11" y="71.8" font-size="15" fill="#0626ff" stroke="#0626ff" stroke-width="0.15" textLength="34.28" lengthAdjust="spacingAndGlyphs" >(203)</text>
<text x="448.93" y="101.8" font-size="15" fill="#0626ff" stroke="#0626ff" stroke-width="0.15" textLength="33.23" lengthAdjust="spacingAndGlyphs" >(210)</text>
<text x="186.81" y="30.1" font-size="16" fill="#161616" stroke="#161616" stroke-width="0.25" textLength="60.34" lengthAdjust="spacingAndGlyphs" >D1.4 neat</text>
<text x="450.56" y="29.1" font-size="16.3" fill="#161616" stroke="#161616" stroke-width="0.25" textLength="86.87" lengthAdjust="spacingAndGlyphs" >D1.4/SFN(1.0)</text>
<text x="33.08" y="19.8" font-size="14" fill="#161616" stroke="#161616" stroke-width="0.25" textLength="16.08" lengthAdjust="spacingAndGlyphs" >(a)</text>
<text x="319.57" y="19.6" font-size="14" fill="#161616" stroke="#161616" stroke-width="0.25" textLength="17.35" lengthAdjust="spacingAndGlyphs" >(b)</text>
<text x="218.53" y="159.7" font-size="11.5" fill="#161616" stroke="#161616" stroke-width="0.25" textLength="29.31" lengthAdjust="spacingAndGlyphs" >1455 s</text>
<text x="218.97" y="177.9" font-size="11.5" fill="#161616" stroke="#161616" stroke-width="0.25" textLength="16.82" lengthAdjust="spacingAndGlyphs" >765</text>
<text x="219.46" y="194.5" font-size="11.5" fill="#161616" stroke="#161616" stroke-width="0.25" textLength="16.31" lengthAdjust="spacingAndGlyphs" >465</text>
<text x="218.52" y="210.9" font-size="11.5" fill="#161616" stroke="#161616" stroke-width="0.25" textLength="16.56" lengthAdjust="spacingAndGlyphs" >315</text>
<text x="217.50" y="225.9" font-size="11.5" fill="#ff0808" stroke="#ff0808" stroke-width="0.25" textLength="17.20" lengthAdjust="spacingAndGlyphs" >215</text>
<text x="217.50" y="239.5" font-size="11.5" fill="#161616" stroke="#161616" stroke-width="0.25" textLength="17.20" lengthAdjust="spacingAndGlyphs" >165</text>
<text x="217.53" y="251.8" font-size="11.5" fill="#161616" stroke="#161616" stroke-width="0.25" textLength="16.39" lengthAdjust="spacingAndGlyphs" >115</text>
<text x="219.96" y="264.8" font-size="11.5" fill="#ff0808" stroke="#ff0808" stroke-width="0.25" textLength="10.91" lengthAdjust="spacingAndGlyphs" >90</text>
<text x="219.69" y="276.2" font-size="11.5" fill="#161616" stroke="#161616" stroke-width="0.25" textLength="11.83" lengthAdjust="spacingAndGlyphs" >80</text>
<text x="221.17" y="287.0" font-size="11.5" fill="#161616" stroke="#161616" stroke-width="0.25" textLength="13.91" lengthAdjust="spacingAndGlyphs" >0 s</text>
<text x="506.16" y="156.9" font-size="11.5" fill="#161616" stroke="#161616" stroke-width="0.25" textLength="23.99" lengthAdjust="spacingAndGlyphs" >920 s</text>
<text x="506.28" y="176.8" font-size="11.5" fill="#161616" stroke="#161616" stroke-width="0.25" textLength="16.50" lengthAdjust="spacingAndGlyphs" >765</text>
<text x="506.77" y="193.3" font-size="11.5" fill="#161616" stroke="#161616" stroke-width="0.25" textLength="16.00" lengthAdjust="spacingAndGlyphs" >465</text>
<text x="507.13" y="209.6" font-size="11.5" fill="#161616" stroke="#161616" stroke-width="0.25" textLength="16.24" lengthAdjust="spacingAndGlyphs" >315</text>
<text x="506.82" y="224.2" font-size="11.5" fill="#161616" stroke="#161616" stroke-width="0.25" textLength="16.45" lengthAdjust="spacingAndGlyphs" >215</text>
<text x="506.32" y="238.6" font-size="11.5" fill="#161616" stroke="#161616" stroke-width="0.25" textLength="16.98" lengthAdjust="spacingAndGlyphs" >165</text>
<text x="506.32" y="252.6" font-size="11.5" fill="#ff0808" stroke="#ff0808" stroke-width="0.25" textLength="16.98" lengthAdjust="spacingAndGlyphs" >120</text>
<text x="508.16" y="264.8" font-size="11.5" fill="#161616" stroke="#161616" stroke-width="0.25" textLength="11.13" lengthAdjust="spacingAndGlyphs" >90</text>
<text x="508.64" y="275.2" font-size="11.5" fill="#ff0808" stroke="#ff0808" stroke-width="0.25" textLength="11.87" lengthAdjust="spacingAndGlyphs" >40</text>
<text x="509.50" y="287.0" font-size="11.5" fill="#161616" stroke="#161616" stroke-width="0.25" textLength="13.06" lengthAdjust="spacingAndGlyphs" >0 s</text>
<line x1="104.50" y1="30.50" x2="107.71" y2="38.37" stroke="#0626ff" stroke-width="1.3"/><polygon points="109.60,43.00 104.74,38.50 109.93,36.39" fill="#0626ff"/>
<line x1="142.80" y1="79.20" x2="136.68" y2="99.02" stroke="#0626ff" stroke-width="1.3"/><polygon points="135.20,103.80 134.30,97.24 139.65,98.89" fill="#0626ff"/>
<line x1="173.40" y1="107.40" x2="168.51" y2="120.80" stroke="#0626ff" stroke-width="1.3"/><polygon points="166.80,125.50 166.22,118.90 171.49,120.82" fill="#0626ff"/>
<line x1="388.20" y1="32.40" x2="393.98" y2="41.31" stroke="#0626ff" stroke-width="1.3"/><polygon points="396.70,45.50 391.09,41.99 395.78,38.94" fill="#0626ff"/>
<line x1="430.30" y1="79.20" x2="424.52" y2="96.07" stroke="#0626ff" stroke-width="1.3"/><polygon points="422.90,100.80 422.20,94.22 427.49,96.03" fill="#0626ff"/>
<line x1="464.10" y1="108.20" x2="457.50" y2="119.67" stroke="#0626ff" stroke-width="1.3"/><polygon points="455.00,124.00 455.57,117.40 460.42,120.20" fill="#0626ff"/>
<line x1="125.00" y1="215.00" x2="116.72" y2="217.76" stroke="#ff0808" stroke-width="1.8"/><polygon points="111.50,219.50 116.65,214.41 118.68,220.48" fill="#ff0808"/>
<line x1="410.30" y1="229.40" x2="405.25" y2="230.97" stroke="#ff0808" stroke-width="1.8"/><polygon points="400.00,232.60 405.26,227.62 407.16,233.73" fill="#ff0808"/>
<line x1="242.70" y1="278.00" x2="242.70" y2="177.70" stroke="#161616" stroke-width="1.3"/><polygon points="242.70,173.70 245.50,178.70 239.90,178.70" fill="#161616"/>
<line x1="530.40" y1="278.00" x2="530.40" y2="179.40" stroke="#161616" stroke-width="1.3"/><polygon points="530.40,175.40 533.20,180.40 527.60,180.40" fill="#161616"/>
</svg>
</body></html>
